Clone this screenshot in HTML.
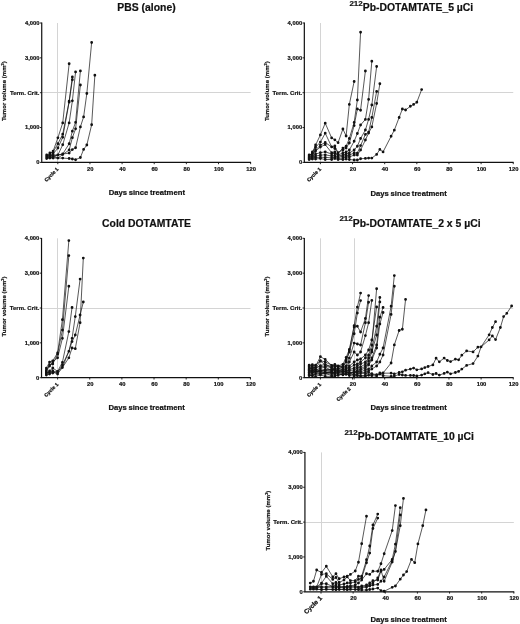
<!DOCTYPE html>
<html><head><meta charset="utf-8"><title>Tumor volume</title>
<style>
html,body{margin:0;padding:0;background:#fff;}
svg{display:block}
text{font-family:"Liberation Sans",sans-serif;fill:#111;font-weight:bold;stroke:#111;stroke-width:0.2px}
.tk{font-size:5.8px}
.tc{font-size:6.0px}
.cy{font-size:5.0px;stroke-width:0.25px}
.xl{font-size:7.7px;word-spacing:-0.5px}
.yl{font-size:6.05px}
.tt{font-size:10.4px}
.g{stroke:#d4d4d4;stroke-width:1}
.t{stroke:#111;stroke-width:0.9}
.ln{fill:none;stroke:#111;stroke-width:0.7}
</style></head><body>
<svg width="520" height="624" viewBox="0 0 520 624">
<rect width="520" height="624" fill="#fff"/>
<g id="pbs">
<line x1="57.5" y1="23.00" x2="57.5" y2="162.4" class="g"/>
<line x1="41.73" y1="92.5" x2="250.64" y2="92.5" class="g"/>
<polyline points="46.65,155.50 49.87,154.50 53.08,151.25 57.90,137.80 62.72,122.90 69.15,63.75" class="ln"/>
<polyline points="46.65,156.00 49.87,153.00 53.08,152.00 57.90,143.75 62.72,134.20 69.15,101.20 72.36,76.90" class="ln"/>
<polyline points="46.65,157.00 49.87,155.50 53.08,154.00 57.90,148.00 62.72,137.30 69.15,102.00 72.36,79.75" class="ln"/>
<polyline points="46.65,155.00 49.87,156.00 53.08,155.00 57.90,155.00 62.72,144.75 69.15,122.90 72.36,100.80 75.58,71.90" class="ln"/>
<polyline points="46.65,157.50 49.87,157.00 53.08,157.50 57.90,155.00 62.72,154.00 69.15,143.75 72.36,131.20 75.58,122.30 80.40,70.90" class="ln"/>
<polyline points="46.65,158.00 49.87,157.50 53.08,156.50 57.90,158.10 62.72,154.50 69.15,150.00 72.36,137.70 75.58,128.80 80.40,85.00" class="ln"/>
<polyline points="46.65,156.50 49.87,156.00 53.08,156.00 57.90,155.00 62.72,154.00 69.15,153.10 72.36,149.60 75.58,147.75 80.40,126.90 83.61,116.90 86.83,93.50 91.65,42.50" class="ln"/>
<polyline points="46.65,158.50 49.87,158.00 53.08,158.00 57.90,158.10 62.72,158.10 69.15,158.50 72.36,159.00 75.58,159.75 80.40,157.50 83.61,149.40 86.83,145.00 91.65,124.75 94.86,75.25" class="ln"/>
<path d="M45.25 155.50a1.4 1.4 0 1 0 2.8 0a1.4 1.4 0 1 0 -2.8 0zM48.47 154.50a1.4 1.4 0 1 0 2.8 0a1.4 1.4 0 1 0 -2.8 0zM51.68 151.25a1.4 1.4 0 1 0 2.8 0a1.4 1.4 0 1 0 -2.8 0zM56.50 137.80a1.4 1.4 0 1 0 2.8 0a1.4 1.4 0 1 0 -2.8 0zM61.32 122.90a1.4 1.4 0 1 0 2.8 0a1.4 1.4 0 1 0 -2.8 0zM67.75 63.75a1.4 1.4 0 1 0 2.8 0a1.4 1.4 0 1 0 -2.8 0zM45.25 156.00a1.4 1.4 0 1 0 2.8 0a1.4 1.4 0 1 0 -2.8 0zM48.47 153.00a1.4 1.4 0 1 0 2.8 0a1.4 1.4 0 1 0 -2.8 0zM51.68 152.00a1.4 1.4 0 1 0 2.8 0a1.4 1.4 0 1 0 -2.8 0zM56.50 143.75a1.4 1.4 0 1 0 2.8 0a1.4 1.4 0 1 0 -2.8 0zM61.32 134.20a1.4 1.4 0 1 0 2.8 0a1.4 1.4 0 1 0 -2.8 0zM67.75 101.20a1.4 1.4 0 1 0 2.8 0a1.4 1.4 0 1 0 -2.8 0zM70.96 76.90a1.4 1.4 0 1 0 2.8 0a1.4 1.4 0 1 0 -2.8 0zM45.25 157.00a1.4 1.4 0 1 0 2.8 0a1.4 1.4 0 1 0 -2.8 0zM48.47 155.50a1.4 1.4 0 1 0 2.8 0a1.4 1.4 0 1 0 -2.8 0zM51.68 154.00a1.4 1.4 0 1 0 2.8 0a1.4 1.4 0 1 0 -2.8 0zM56.50 148.00a1.4 1.4 0 1 0 2.8 0a1.4 1.4 0 1 0 -2.8 0zM61.32 137.30a1.4 1.4 0 1 0 2.8 0a1.4 1.4 0 1 0 -2.8 0zM67.75 102.00a1.4 1.4 0 1 0 2.8 0a1.4 1.4 0 1 0 -2.8 0zM70.96 79.75a1.4 1.4 0 1 0 2.8 0a1.4 1.4 0 1 0 -2.8 0zM45.25 155.00a1.4 1.4 0 1 0 2.8 0a1.4 1.4 0 1 0 -2.8 0zM48.47 156.00a1.4 1.4 0 1 0 2.8 0a1.4 1.4 0 1 0 -2.8 0zM51.68 155.00a1.4 1.4 0 1 0 2.8 0a1.4 1.4 0 1 0 -2.8 0zM56.50 155.00a1.4 1.4 0 1 0 2.8 0a1.4 1.4 0 1 0 -2.8 0zM61.32 144.75a1.4 1.4 0 1 0 2.8 0a1.4 1.4 0 1 0 -2.8 0zM67.75 122.90a1.4 1.4 0 1 0 2.8 0a1.4 1.4 0 1 0 -2.8 0zM70.96 100.80a1.4 1.4 0 1 0 2.8 0a1.4 1.4 0 1 0 -2.8 0zM74.18 71.90a1.4 1.4 0 1 0 2.8 0a1.4 1.4 0 1 0 -2.8 0zM45.25 157.50a1.4 1.4 0 1 0 2.8 0a1.4 1.4 0 1 0 -2.8 0zM48.47 157.00a1.4 1.4 0 1 0 2.8 0a1.4 1.4 0 1 0 -2.8 0zM51.68 157.50a1.4 1.4 0 1 0 2.8 0a1.4 1.4 0 1 0 -2.8 0zM56.50 155.00a1.4 1.4 0 1 0 2.8 0a1.4 1.4 0 1 0 -2.8 0zM61.32 154.00a1.4 1.4 0 1 0 2.8 0a1.4 1.4 0 1 0 -2.8 0zM67.75 143.75a1.4 1.4 0 1 0 2.8 0a1.4 1.4 0 1 0 -2.8 0zM70.96 131.20a1.4 1.4 0 1 0 2.8 0a1.4 1.4 0 1 0 -2.8 0zM74.18 122.30a1.4 1.4 0 1 0 2.8 0a1.4 1.4 0 1 0 -2.8 0zM79.00 70.90a1.4 1.4 0 1 0 2.8 0a1.4 1.4 0 1 0 -2.8 0zM45.25 158.00a1.4 1.4 0 1 0 2.8 0a1.4 1.4 0 1 0 -2.8 0zM48.47 157.50a1.4 1.4 0 1 0 2.8 0a1.4 1.4 0 1 0 -2.8 0zM51.68 156.50a1.4 1.4 0 1 0 2.8 0a1.4 1.4 0 1 0 -2.8 0zM56.50 158.10a1.4 1.4 0 1 0 2.8 0a1.4 1.4 0 1 0 -2.8 0zM61.32 154.50a1.4 1.4 0 1 0 2.8 0a1.4 1.4 0 1 0 -2.8 0zM67.75 150.00a1.4 1.4 0 1 0 2.8 0a1.4 1.4 0 1 0 -2.8 0zM70.96 137.70a1.4 1.4 0 1 0 2.8 0a1.4 1.4 0 1 0 -2.8 0zM74.18 128.80a1.4 1.4 0 1 0 2.8 0a1.4 1.4 0 1 0 -2.8 0zM79.00 85.00a1.4 1.4 0 1 0 2.8 0a1.4 1.4 0 1 0 -2.8 0zM45.25 156.50a1.4 1.4 0 1 0 2.8 0a1.4 1.4 0 1 0 -2.8 0zM48.47 156.00a1.4 1.4 0 1 0 2.8 0a1.4 1.4 0 1 0 -2.8 0zM51.68 156.00a1.4 1.4 0 1 0 2.8 0a1.4 1.4 0 1 0 -2.8 0zM56.50 155.00a1.4 1.4 0 1 0 2.8 0a1.4 1.4 0 1 0 -2.8 0zM61.32 154.00a1.4 1.4 0 1 0 2.8 0a1.4 1.4 0 1 0 -2.8 0zM67.75 153.10a1.4 1.4 0 1 0 2.8 0a1.4 1.4 0 1 0 -2.8 0zM70.96 149.60a1.4 1.4 0 1 0 2.8 0a1.4 1.4 0 1 0 -2.8 0zM74.18 147.75a1.4 1.4 0 1 0 2.8 0a1.4 1.4 0 1 0 -2.8 0zM79.00 126.90a1.4 1.4 0 1 0 2.8 0a1.4 1.4 0 1 0 -2.8 0zM82.21 116.90a1.4 1.4 0 1 0 2.8 0a1.4 1.4 0 1 0 -2.8 0zM85.43 93.50a1.4 1.4 0 1 0 2.8 0a1.4 1.4 0 1 0 -2.8 0zM90.25 42.50a1.4 1.4 0 1 0 2.8 0a1.4 1.4 0 1 0 -2.8 0zM45.25 158.50a1.4 1.4 0 1 0 2.8 0a1.4 1.4 0 1 0 -2.8 0zM48.47 158.00a1.4 1.4 0 1 0 2.8 0a1.4 1.4 0 1 0 -2.8 0zM51.68 158.00a1.4 1.4 0 1 0 2.8 0a1.4 1.4 0 1 0 -2.8 0zM56.50 158.10a1.4 1.4 0 1 0 2.8 0a1.4 1.4 0 1 0 -2.8 0zM61.32 158.10a1.4 1.4 0 1 0 2.8 0a1.4 1.4 0 1 0 -2.8 0zM67.75 158.50a1.4 1.4 0 1 0 2.8 0a1.4 1.4 0 1 0 -2.8 0zM70.96 159.00a1.4 1.4 0 1 0 2.8 0a1.4 1.4 0 1 0 -2.8 0zM74.18 159.75a1.4 1.4 0 1 0 2.8 0a1.4 1.4 0 1 0 -2.8 0zM79.00 157.50a1.4 1.4 0 1 0 2.8 0a1.4 1.4 0 1 0 -2.8 0zM82.21 149.40a1.4 1.4 0 1 0 2.8 0a1.4 1.4 0 1 0 -2.8 0zM85.43 145.00a1.4 1.4 0 1 0 2.8 0a1.4 1.4 0 1 0 -2.8 0zM90.25 124.75a1.4 1.4 0 1 0 2.8 0a1.4 1.4 0 1 0 -2.8 0zM93.46 75.25a1.4 1.4 0 1 0 2.8 0a1.4 1.4 0 1 0 -2.8 0z" fill="#111"/>
<path d="M41.73 22.60V162.4H251.04" fill="none" stroke="#111" stroke-width="1.2"/>
<line x1="39.93" x2="41.73" y1="162.40" y2="162.40" class="t"/>
<text x="39.53" y="164.20" text-anchor="end" class="tk">0</text>
<line x1="39.93" x2="41.73" y1="127.55" y2="127.55" class="t"/>
<text x="39.53" y="129.35" text-anchor="end" class="tk">1,000</text>
<line x1="39.93" x2="41.73" y1="92.70" y2="92.70" class="t"/>
<text x="39.53" y="94.50" text-anchor="end" class="tc">Term. Crit.</text>
<line x1="39.93" x2="41.73" y1="57.85" y2="57.85" class="t"/>
<text x="39.53" y="59.65" text-anchor="end" class="tk">3,000</text>
<line x1="39.93" x2="41.73" y1="23.00" y2="23.00" class="t"/>
<text x="39.53" y="24.80" text-anchor="end" class="tk">4,000</text>
<line x1="89.94" x2="89.94" y1="162.4" y2="164.20000000000002" class="t"/>
<text x="90.34" y="170.60" text-anchor="middle" class="tk">20</text>
<line x1="122.08" x2="122.08" y1="162.4" y2="164.20000000000002" class="t"/>
<text x="122.48" y="170.60" text-anchor="middle" class="tk">40</text>
<line x1="154.22" x2="154.22" y1="162.4" y2="164.20000000000002" class="t"/>
<text x="154.62" y="170.60" text-anchor="middle" class="tk">60</text>
<line x1="186.36" x2="186.36" y1="162.4" y2="164.20000000000002" class="t"/>
<text x="186.76" y="170.60" text-anchor="middle" class="tk">80</text>
<line x1="218.50" x2="218.50" y1="162.4" y2="164.20000000000002" class="t"/>
<text x="218.90" y="170.60" text-anchor="middle" class="tk">100</text>
<line x1="250.64" x2="250.64" y1="162.4" y2="164.20000000000002" class="t"/>
<text x="251.04" y="170.60" text-anchor="middle" class="tk">120</text>
<line x1="57.80" x2="57.80" y1="162.4" y2="164.20000000000002" class="t"/>
<text transform="translate(58.80,169.60) rotate(-45)" text-anchor="end" class="cy">Cycle 1</text>
<text x="146.80" y="195.10" text-anchor="middle" class="xl">Days since treatment</text>
<text transform="translate(6.23,91.20) rotate(-90)" text-anchor="middle" class="yl">Tumor volume (mm<tspan dy="-2" font-size="3.8">3</tspan><tspan dy="2">)</tspan></text>
<text x="146.50" y="11.00" text-anchor="middle" class="tt">PBS (alone)</text>
</g>
<g id="c5">
<line x1="320.5" y1="23.00" x2="320.5" y2="162.4" class="g"/>
<line x1="304.33" y1="92.5" x2="513.24" y2="92.5" class="g"/>
<polyline points="309.15,156.00 312.36,153.00 315.58,145.00 320.40,134.90 325.22,123.20 331.65,137.90 334.86,139.80 338.08,142.70 342.90,129.00 346.11,136.00 349.33,104.40 354.15,81.50" class="ln"/>
<polyline points="309.15,157.00 312.36,152.00 315.58,147.20 320.40,142.10 325.22,133.20 331.65,146.80 334.86,146.00 338.08,152.70 342.90,150.00 346.11,148.00 349.33,143.00 354.15,125.60 357.36,109.00 360.57,110.25 365.40,71.00" class="ln"/>
<polyline points="309.15,155.00 312.36,154.00 315.58,150.00 320.40,145.10 325.22,142.50 331.65,146.90 334.86,148.50 338.08,153.00 342.90,148.10 346.11,146.25 349.33,138.50 354.15,122.50 357.36,100.00 360.57,32.25" class="ln"/>
<polyline points="309.15,157.50 312.36,155.00 315.58,151.00 320.40,147.00 325.22,144.60 331.65,152.70 334.86,152.00 338.08,155.00 342.90,153.00 346.11,152.00 349.33,150.00 354.15,141.25 357.36,133.50 360.57,125.00 365.40,119.40 368.61,99.40 371.82,61.25" class="ln"/>
<polyline points="309.15,158.00 312.36,156.00 315.58,154.00 320.40,152.70 325.22,151.80 331.65,154.00 334.86,153.00 338.08,156.00 342.90,155.00 346.11,154.00 349.33,153.00 354.15,150.00 357.36,146.25 360.57,138.50 365.40,130.00 368.61,119.40 371.82,105.00 376.64,66.50" class="ln"/>
<polyline points="309.15,158.50 312.36,157.00 315.58,156.00 320.40,155.20 325.22,154.80 331.65,156.00 334.86,155.50 338.08,157.50 342.90,156.00 346.11,156.00 349.33,155.00 354.15,153.00 357.36,153.10 360.57,145.60 365.40,134.40 368.61,132.25 371.82,117.50 376.64,91.50" class="ln"/>
<polyline points="309.15,159.00 312.36,158.00 315.58,157.50 320.40,157.30 325.22,157.30 331.65,158.00 334.86,157.00 338.08,158.50 342.90,158.00 346.11,157.00 349.33,157.00 354.15,155.00 357.36,155.00 360.57,150.00 365.40,140.00 368.61,133.00 371.82,126.90 376.64,103.50 379.86,83.75" class="ln"/>
<polyline points="309.15,159.50 312.36,159.00 315.58,159.00 320.40,158.50 325.22,159.50 331.65,159.50 334.86,158.50 338.08,159.50 342.90,159.50 346.11,159.00 349.33,159.50 354.15,160.00 357.36,160.00 360.57,158.75 365.40,158.40 368.61,158.10 371.82,158.10 376.64,154.40 379.86,149.40 383.07,151.90 391.11,136.25 394.32,130.20 399.14,117.50 402.36,109.00 405.57,110.00 410.39,106.25 413.61,104.40 416.82,102.25 421.64,89.60" class="ln"/>
<path d="M307.75 156.00a1.4 1.4 0 1 0 2.8 0a1.4 1.4 0 1 0 -2.8 0zM310.96 153.00a1.4 1.4 0 1 0 2.8 0a1.4 1.4 0 1 0 -2.8 0zM314.18 145.00a1.4 1.4 0 1 0 2.8 0a1.4 1.4 0 1 0 -2.8 0zM319.00 134.90a1.4 1.4 0 1 0 2.8 0a1.4 1.4 0 1 0 -2.8 0zM323.82 123.20a1.4 1.4 0 1 0 2.8 0a1.4 1.4 0 1 0 -2.8 0zM330.25 137.90a1.4 1.4 0 1 0 2.8 0a1.4 1.4 0 1 0 -2.8 0zM333.46 139.80a1.4 1.4 0 1 0 2.8 0a1.4 1.4 0 1 0 -2.8 0zM336.68 142.70a1.4 1.4 0 1 0 2.8 0a1.4 1.4 0 1 0 -2.8 0zM341.50 129.00a1.4 1.4 0 1 0 2.8 0a1.4 1.4 0 1 0 -2.8 0zM344.71 136.00a1.4 1.4 0 1 0 2.8 0a1.4 1.4 0 1 0 -2.8 0zM347.93 104.40a1.4 1.4 0 1 0 2.8 0a1.4 1.4 0 1 0 -2.8 0zM352.75 81.50a1.4 1.4 0 1 0 2.8 0a1.4 1.4 0 1 0 -2.8 0zM307.75 157.00a1.4 1.4 0 1 0 2.8 0a1.4 1.4 0 1 0 -2.8 0zM310.96 152.00a1.4 1.4 0 1 0 2.8 0a1.4 1.4 0 1 0 -2.8 0zM314.18 147.20a1.4 1.4 0 1 0 2.8 0a1.4 1.4 0 1 0 -2.8 0zM319.00 142.10a1.4 1.4 0 1 0 2.8 0a1.4 1.4 0 1 0 -2.8 0zM323.82 133.20a1.4 1.4 0 1 0 2.8 0a1.4 1.4 0 1 0 -2.8 0zM330.25 146.80a1.4 1.4 0 1 0 2.8 0a1.4 1.4 0 1 0 -2.8 0zM333.46 146.00a1.4 1.4 0 1 0 2.8 0a1.4 1.4 0 1 0 -2.8 0zM336.68 152.70a1.4 1.4 0 1 0 2.8 0a1.4 1.4 0 1 0 -2.8 0zM341.50 150.00a1.4 1.4 0 1 0 2.8 0a1.4 1.4 0 1 0 -2.8 0zM344.71 148.00a1.4 1.4 0 1 0 2.8 0a1.4 1.4 0 1 0 -2.8 0zM347.93 143.00a1.4 1.4 0 1 0 2.8 0a1.4 1.4 0 1 0 -2.8 0zM352.75 125.60a1.4 1.4 0 1 0 2.8 0a1.4 1.4 0 1 0 -2.8 0zM355.96 109.00a1.4 1.4 0 1 0 2.8 0a1.4 1.4 0 1 0 -2.8 0zM359.18 110.25a1.4 1.4 0 1 0 2.8 0a1.4 1.4 0 1 0 -2.8 0zM364.00 71.00a1.4 1.4 0 1 0 2.8 0a1.4 1.4 0 1 0 -2.8 0zM307.75 155.00a1.4 1.4 0 1 0 2.8 0a1.4 1.4 0 1 0 -2.8 0zM310.96 154.00a1.4 1.4 0 1 0 2.8 0a1.4 1.4 0 1 0 -2.8 0zM314.18 150.00a1.4 1.4 0 1 0 2.8 0a1.4 1.4 0 1 0 -2.8 0zM319.00 145.10a1.4 1.4 0 1 0 2.8 0a1.4 1.4 0 1 0 -2.8 0zM323.82 142.50a1.4 1.4 0 1 0 2.8 0a1.4 1.4 0 1 0 -2.8 0zM330.25 146.90a1.4 1.4 0 1 0 2.8 0a1.4 1.4 0 1 0 -2.8 0zM333.46 148.50a1.4 1.4 0 1 0 2.8 0a1.4 1.4 0 1 0 -2.8 0zM336.68 153.00a1.4 1.4 0 1 0 2.8 0a1.4 1.4 0 1 0 -2.8 0zM341.50 148.10a1.4 1.4 0 1 0 2.8 0a1.4 1.4 0 1 0 -2.8 0zM344.71 146.25a1.4 1.4 0 1 0 2.8 0a1.4 1.4 0 1 0 -2.8 0zM347.93 138.50a1.4 1.4 0 1 0 2.8 0a1.4 1.4 0 1 0 -2.8 0zM352.75 122.50a1.4 1.4 0 1 0 2.8 0a1.4 1.4 0 1 0 -2.8 0zM355.96 100.00a1.4 1.4 0 1 0 2.8 0a1.4 1.4 0 1 0 -2.8 0zM359.18 32.25a1.4 1.4 0 1 0 2.8 0a1.4 1.4 0 1 0 -2.8 0zM307.75 157.50a1.4 1.4 0 1 0 2.8 0a1.4 1.4 0 1 0 -2.8 0zM310.96 155.00a1.4 1.4 0 1 0 2.8 0a1.4 1.4 0 1 0 -2.8 0zM314.18 151.00a1.4 1.4 0 1 0 2.8 0a1.4 1.4 0 1 0 -2.8 0zM319.00 147.00a1.4 1.4 0 1 0 2.8 0a1.4 1.4 0 1 0 -2.8 0zM323.82 144.60a1.4 1.4 0 1 0 2.8 0a1.4 1.4 0 1 0 -2.8 0zM330.25 152.70a1.4 1.4 0 1 0 2.8 0a1.4 1.4 0 1 0 -2.8 0zM333.46 152.00a1.4 1.4 0 1 0 2.8 0a1.4 1.4 0 1 0 -2.8 0zM336.68 155.00a1.4 1.4 0 1 0 2.8 0a1.4 1.4 0 1 0 -2.8 0zM341.50 153.00a1.4 1.4 0 1 0 2.8 0a1.4 1.4 0 1 0 -2.8 0zM344.71 152.00a1.4 1.4 0 1 0 2.8 0a1.4 1.4 0 1 0 -2.8 0zM347.93 150.00a1.4 1.4 0 1 0 2.8 0a1.4 1.4 0 1 0 -2.8 0zM352.75 141.25a1.4 1.4 0 1 0 2.8 0a1.4 1.4 0 1 0 -2.8 0zM355.96 133.50a1.4 1.4 0 1 0 2.8 0a1.4 1.4 0 1 0 -2.8 0zM359.18 125.00a1.4 1.4 0 1 0 2.8 0a1.4 1.4 0 1 0 -2.8 0zM364.00 119.40a1.4 1.4 0 1 0 2.8 0a1.4 1.4 0 1 0 -2.8 0zM367.21 99.40a1.4 1.4 0 1 0 2.8 0a1.4 1.4 0 1 0 -2.8 0zM370.42 61.25a1.4 1.4 0 1 0 2.8 0a1.4 1.4 0 1 0 -2.8 0zM307.75 158.00a1.4 1.4 0 1 0 2.8 0a1.4 1.4 0 1 0 -2.8 0zM310.96 156.00a1.4 1.4 0 1 0 2.8 0a1.4 1.4 0 1 0 -2.8 0zM314.18 154.00a1.4 1.4 0 1 0 2.8 0a1.4 1.4 0 1 0 -2.8 0zM319.00 152.70a1.4 1.4 0 1 0 2.8 0a1.4 1.4 0 1 0 -2.8 0zM323.82 151.80a1.4 1.4 0 1 0 2.8 0a1.4 1.4 0 1 0 -2.8 0zM330.25 154.00a1.4 1.4 0 1 0 2.8 0a1.4 1.4 0 1 0 -2.8 0zM333.46 153.00a1.4 1.4 0 1 0 2.8 0a1.4 1.4 0 1 0 -2.8 0zM336.68 156.00a1.4 1.4 0 1 0 2.8 0a1.4 1.4 0 1 0 -2.8 0zM341.50 155.00a1.4 1.4 0 1 0 2.8 0a1.4 1.4 0 1 0 -2.8 0zM344.71 154.00a1.4 1.4 0 1 0 2.8 0a1.4 1.4 0 1 0 -2.8 0zM347.93 153.00a1.4 1.4 0 1 0 2.8 0a1.4 1.4 0 1 0 -2.8 0zM352.75 150.00a1.4 1.4 0 1 0 2.8 0a1.4 1.4 0 1 0 -2.8 0zM355.96 146.25a1.4 1.4 0 1 0 2.8 0a1.4 1.4 0 1 0 -2.8 0zM359.18 138.50a1.4 1.4 0 1 0 2.8 0a1.4 1.4 0 1 0 -2.8 0zM364.00 130.00a1.4 1.4 0 1 0 2.8 0a1.4 1.4 0 1 0 -2.8 0zM367.21 119.40a1.4 1.4 0 1 0 2.8 0a1.4 1.4 0 1 0 -2.8 0zM370.42 105.00a1.4 1.4 0 1 0 2.8 0a1.4 1.4 0 1 0 -2.8 0zM375.25 66.50a1.4 1.4 0 1 0 2.8 0a1.4 1.4 0 1 0 -2.8 0zM307.75 158.50a1.4 1.4 0 1 0 2.8 0a1.4 1.4 0 1 0 -2.8 0zM310.96 157.00a1.4 1.4 0 1 0 2.8 0a1.4 1.4 0 1 0 -2.8 0zM314.18 156.00a1.4 1.4 0 1 0 2.8 0a1.4 1.4 0 1 0 -2.8 0zM319.00 155.20a1.4 1.4 0 1 0 2.8 0a1.4 1.4 0 1 0 -2.8 0zM323.82 154.80a1.4 1.4 0 1 0 2.8 0a1.4 1.4 0 1 0 -2.8 0zM330.25 156.00a1.4 1.4 0 1 0 2.8 0a1.4 1.4 0 1 0 -2.8 0zM333.46 155.50a1.4 1.4 0 1 0 2.8 0a1.4 1.4 0 1 0 -2.8 0zM336.68 157.50a1.4 1.4 0 1 0 2.8 0a1.4 1.4 0 1 0 -2.8 0zM341.50 156.00a1.4 1.4 0 1 0 2.8 0a1.4 1.4 0 1 0 -2.8 0zM344.71 156.00a1.4 1.4 0 1 0 2.8 0a1.4 1.4 0 1 0 -2.8 0zM347.93 155.00a1.4 1.4 0 1 0 2.8 0a1.4 1.4 0 1 0 -2.8 0zM352.75 153.00a1.4 1.4 0 1 0 2.8 0a1.4 1.4 0 1 0 -2.8 0zM355.96 153.10a1.4 1.4 0 1 0 2.8 0a1.4 1.4 0 1 0 -2.8 0zM359.18 145.60a1.4 1.4 0 1 0 2.8 0a1.4 1.4 0 1 0 -2.8 0zM364.00 134.40a1.4 1.4 0 1 0 2.8 0a1.4 1.4 0 1 0 -2.8 0zM367.21 132.25a1.4 1.4 0 1 0 2.8 0a1.4 1.4 0 1 0 -2.8 0zM370.42 117.50a1.4 1.4 0 1 0 2.8 0a1.4 1.4 0 1 0 -2.8 0zM375.25 91.50a1.4 1.4 0 1 0 2.8 0a1.4 1.4 0 1 0 -2.8 0zM307.75 159.00a1.4 1.4 0 1 0 2.8 0a1.4 1.4 0 1 0 -2.8 0zM310.96 158.00a1.4 1.4 0 1 0 2.8 0a1.4 1.4 0 1 0 -2.8 0zM314.18 157.50a1.4 1.4 0 1 0 2.8 0a1.4 1.4 0 1 0 -2.8 0zM319.00 157.30a1.4 1.4 0 1 0 2.8 0a1.4 1.4 0 1 0 -2.8 0zM323.82 157.30a1.4 1.4 0 1 0 2.8 0a1.4 1.4 0 1 0 -2.8 0zM330.25 158.00a1.4 1.4 0 1 0 2.8 0a1.4 1.4 0 1 0 -2.8 0zM333.46 157.00a1.4 1.4 0 1 0 2.8 0a1.4 1.4 0 1 0 -2.8 0zM336.68 158.50a1.4 1.4 0 1 0 2.8 0a1.4 1.4 0 1 0 -2.8 0zM341.50 158.00a1.4 1.4 0 1 0 2.8 0a1.4 1.4 0 1 0 -2.8 0zM344.71 157.00a1.4 1.4 0 1 0 2.8 0a1.4 1.4 0 1 0 -2.8 0zM347.93 157.00a1.4 1.4 0 1 0 2.8 0a1.4 1.4 0 1 0 -2.8 0zM352.75 155.00a1.4 1.4 0 1 0 2.8 0a1.4 1.4 0 1 0 -2.8 0zM355.96 155.00a1.4 1.4 0 1 0 2.8 0a1.4 1.4 0 1 0 -2.8 0zM359.18 150.00a1.4 1.4 0 1 0 2.8 0a1.4 1.4 0 1 0 -2.8 0zM364.00 140.00a1.4 1.4 0 1 0 2.8 0a1.4 1.4 0 1 0 -2.8 0zM367.21 133.00a1.4 1.4 0 1 0 2.8 0a1.4 1.4 0 1 0 -2.8 0zM370.42 126.90a1.4 1.4 0 1 0 2.8 0a1.4 1.4 0 1 0 -2.8 0zM375.25 103.50a1.4 1.4 0 1 0 2.8 0a1.4 1.4 0 1 0 -2.8 0zM378.46 83.75a1.4 1.4 0 1 0 2.8 0a1.4 1.4 0 1 0 -2.8 0zM307.75 159.50a1.4 1.4 0 1 0 2.8 0a1.4 1.4 0 1 0 -2.8 0zM310.96 159.00a1.4 1.4 0 1 0 2.8 0a1.4 1.4 0 1 0 -2.8 0zM314.18 159.00a1.4 1.4 0 1 0 2.8 0a1.4 1.4 0 1 0 -2.8 0zM319.00 158.50a1.4 1.4 0 1 0 2.8 0a1.4 1.4 0 1 0 -2.8 0zM323.82 159.50a1.4 1.4 0 1 0 2.8 0a1.4 1.4 0 1 0 -2.8 0zM330.25 159.50a1.4 1.4 0 1 0 2.8 0a1.4 1.4 0 1 0 -2.8 0zM333.46 158.50a1.4 1.4 0 1 0 2.8 0a1.4 1.4 0 1 0 -2.8 0zM336.68 159.50a1.4 1.4 0 1 0 2.8 0a1.4 1.4 0 1 0 -2.8 0zM341.50 159.50a1.4 1.4 0 1 0 2.8 0a1.4 1.4 0 1 0 -2.8 0zM344.71 159.00a1.4 1.4 0 1 0 2.8 0a1.4 1.4 0 1 0 -2.8 0zM347.93 159.50a1.4 1.4 0 1 0 2.8 0a1.4 1.4 0 1 0 -2.8 0zM352.75 160.00a1.4 1.4 0 1 0 2.8 0a1.4 1.4 0 1 0 -2.8 0zM355.96 160.00a1.4 1.4 0 1 0 2.8 0a1.4 1.4 0 1 0 -2.8 0zM359.18 158.75a1.4 1.4 0 1 0 2.8 0a1.4 1.4 0 1 0 -2.8 0zM364.00 158.40a1.4 1.4 0 1 0 2.8 0a1.4 1.4 0 1 0 -2.8 0zM367.21 158.10a1.4 1.4 0 1 0 2.8 0a1.4 1.4 0 1 0 -2.8 0zM370.42 158.10a1.4 1.4 0 1 0 2.8 0a1.4 1.4 0 1 0 -2.8 0zM375.25 154.40a1.4 1.4 0 1 0 2.8 0a1.4 1.4 0 1 0 -2.8 0zM378.46 149.40a1.4 1.4 0 1 0 2.8 0a1.4 1.4 0 1 0 -2.8 0zM381.67 151.90a1.4 1.4 0 1 0 2.8 0a1.4 1.4 0 1 0 -2.8 0zM389.71 136.25a1.4 1.4 0 1 0 2.8 0a1.4 1.4 0 1 0 -2.8 0zM392.92 130.20a1.4 1.4 0 1 0 2.8 0a1.4 1.4 0 1 0 -2.8 0zM397.74 117.50a1.4 1.4 0 1 0 2.8 0a1.4 1.4 0 1 0 -2.8 0zM400.96 109.00a1.4 1.4 0 1 0 2.8 0a1.4 1.4 0 1 0 -2.8 0zM404.17 110.00a1.4 1.4 0 1 0 2.8 0a1.4 1.4 0 1 0 -2.8 0zM408.99 106.25a1.4 1.4 0 1 0 2.8 0a1.4 1.4 0 1 0 -2.8 0zM412.21 104.40a1.4 1.4 0 1 0 2.8 0a1.4 1.4 0 1 0 -2.8 0zM415.42 102.25a1.4 1.4 0 1 0 2.8 0a1.4 1.4 0 1 0 -2.8 0zM420.24 89.60a1.4 1.4 0 1 0 2.8 0a1.4 1.4 0 1 0 -2.8 0z" fill="#111"/>
<path d="M304.33 22.60V162.4H513.64" fill="none" stroke="#111" stroke-width="1.2"/>
<line x1="302.53" x2="304.33" y1="162.40" y2="162.40" class="t"/>
<text x="302.13" y="164.20" text-anchor="end" class="tk">0</text>
<line x1="302.53" x2="304.33" y1="127.55" y2="127.55" class="t"/>
<text x="302.13" y="129.35" text-anchor="end" class="tk">1,000</text>
<line x1="302.53" x2="304.33" y1="92.70" y2="92.70" class="t"/>
<text x="302.13" y="94.50" text-anchor="end" class="tc">Term. Crit.</text>
<line x1="302.53" x2="304.33" y1="57.85" y2="57.85" class="t"/>
<text x="302.13" y="59.65" text-anchor="end" class="tk">3,000</text>
<line x1="302.53" x2="304.33" y1="23.00" y2="23.00" class="t"/>
<text x="302.13" y="24.80" text-anchor="end" class="tk">4,000</text>
<line x1="352.54" x2="352.54" y1="162.4" y2="164.20000000000002" class="t"/>
<text x="352.94" y="170.60" text-anchor="middle" class="tk">20</text>
<line x1="384.68" x2="384.68" y1="162.4" y2="164.20000000000002" class="t"/>
<text x="385.08" y="170.60" text-anchor="middle" class="tk">40</text>
<line x1="416.82" x2="416.82" y1="162.4" y2="164.20000000000002" class="t"/>
<text x="417.22" y="170.60" text-anchor="middle" class="tk">60</text>
<line x1="448.96" x2="448.96" y1="162.4" y2="164.20000000000002" class="t"/>
<text x="449.36" y="170.60" text-anchor="middle" class="tk">80</text>
<line x1="481.10" x2="481.10" y1="162.4" y2="164.20000000000002" class="t"/>
<text x="481.50" y="170.60" text-anchor="middle" class="tk">100</text>
<line x1="513.24" x2="513.24" y1="162.4" y2="164.20000000000002" class="t"/>
<text x="513.64" y="170.60" text-anchor="middle" class="tk">120</text>
<line x1="320.40" x2="320.40" y1="162.4" y2="164.20000000000002" class="t"/>
<text transform="translate(321.40,169.60) rotate(-45)" text-anchor="end" class="cy">Cycle 1</text>
<text x="408.70" y="196.00" text-anchor="middle" class="xl">Days since treatment</text>
<text transform="translate(268.83,91.20) rotate(-90)" text-anchor="middle" class="yl">Tumor volume (mm<tspan dy="-2" font-size="3.8">3</tspan><tspan dy="2">)</tspan></text>
<text x="411.30" y="10.90" text-anchor="middle" class="tt"><tspan dy="-5.1" font-size="8">212</tspan><tspan dy="5.1">Pb-DOTAMTATE_5 µCi</tspan></text>
</g>
<g id="cold">
<line x1="57.5" y1="238.30" x2="57.5" y2="377.7" class="g"/>
<line x1="41.53" y1="308.5" x2="250.44" y2="308.5" class="g"/>
<polyline points="46.35,368.20 49.56,362.10 52.78,360.80 57.60,352.90 62.42,319.70 68.85,240.60" class="ln"/>
<polyline points="46.35,370.00 49.56,365.00 52.78,364.00 57.60,354.00 62.42,330.10 68.85,255.60" class="ln"/>
<polyline points="46.35,371.00 49.56,366.00 52.78,362.00 57.60,357.80 62.42,338.30 68.85,286.25" class="ln"/>
<polyline points="46.35,373.00 49.56,371.00 52.78,368.00 57.60,371.40 62.42,362.30 68.85,331.60 72.06,307.50" class="ln"/>
<polyline points="46.35,374.00 49.56,372.00 52.78,371.00 57.60,372.50 62.42,365.00 68.85,351.30 72.06,338.30 75.28,316.60 80.10,279.10" class="ln"/>
<polyline points="46.35,372.00 49.56,373.00 52.78,373.00 57.60,371.40 62.42,367.50 68.85,357.80 72.06,348.00 75.28,348.70 80.10,322.70 83.31,258.10" class="ln"/>
<polyline points="46.35,375.00 49.56,374.00 52.78,372.00 57.60,374.00 62.42,367.50 68.85,351.30 72.06,341.60 75.28,335.00 80.10,315.00 83.31,302.00" class="ln"/>
<path d="M44.95 368.20a1.4 1.4 0 1 0 2.8 0a1.4 1.4 0 1 0 -2.8 0zM48.16 362.10a1.4 1.4 0 1 0 2.8 0a1.4 1.4 0 1 0 -2.8 0zM51.38 360.80a1.4 1.4 0 1 0 2.8 0a1.4 1.4 0 1 0 -2.8 0zM56.20 352.90a1.4 1.4 0 1 0 2.8 0a1.4 1.4 0 1 0 -2.8 0zM61.02 319.70a1.4 1.4 0 1 0 2.8 0a1.4 1.4 0 1 0 -2.8 0zM67.45 240.60a1.4 1.4 0 1 0 2.8 0a1.4 1.4 0 1 0 -2.8 0zM44.95 370.00a1.4 1.4 0 1 0 2.8 0a1.4 1.4 0 1 0 -2.8 0zM48.16 365.00a1.4 1.4 0 1 0 2.8 0a1.4 1.4 0 1 0 -2.8 0zM51.38 364.00a1.4 1.4 0 1 0 2.8 0a1.4 1.4 0 1 0 -2.8 0zM56.20 354.00a1.4 1.4 0 1 0 2.8 0a1.4 1.4 0 1 0 -2.8 0zM61.02 330.10a1.4 1.4 0 1 0 2.8 0a1.4 1.4 0 1 0 -2.8 0zM67.45 255.60a1.4 1.4 0 1 0 2.8 0a1.4 1.4 0 1 0 -2.8 0zM44.95 371.00a1.4 1.4 0 1 0 2.8 0a1.4 1.4 0 1 0 -2.8 0zM48.16 366.00a1.4 1.4 0 1 0 2.8 0a1.4 1.4 0 1 0 -2.8 0zM51.38 362.00a1.4 1.4 0 1 0 2.8 0a1.4 1.4 0 1 0 -2.8 0zM56.20 357.80a1.4 1.4 0 1 0 2.8 0a1.4 1.4 0 1 0 -2.8 0zM61.02 338.30a1.4 1.4 0 1 0 2.8 0a1.4 1.4 0 1 0 -2.8 0zM67.45 286.25a1.4 1.4 0 1 0 2.8 0a1.4 1.4 0 1 0 -2.8 0zM44.95 373.00a1.4 1.4 0 1 0 2.8 0a1.4 1.4 0 1 0 -2.8 0zM48.16 371.00a1.4 1.4 0 1 0 2.8 0a1.4 1.4 0 1 0 -2.8 0zM51.38 368.00a1.4 1.4 0 1 0 2.8 0a1.4 1.4 0 1 0 -2.8 0zM56.20 371.40a1.4 1.4 0 1 0 2.8 0a1.4 1.4 0 1 0 -2.8 0zM61.02 362.30a1.4 1.4 0 1 0 2.8 0a1.4 1.4 0 1 0 -2.8 0zM67.45 331.60a1.4 1.4 0 1 0 2.8 0a1.4 1.4 0 1 0 -2.8 0zM70.66 307.50a1.4 1.4 0 1 0 2.8 0a1.4 1.4 0 1 0 -2.8 0zM44.95 374.00a1.4 1.4 0 1 0 2.8 0a1.4 1.4 0 1 0 -2.8 0zM48.16 372.00a1.4 1.4 0 1 0 2.8 0a1.4 1.4 0 1 0 -2.8 0zM51.38 371.00a1.4 1.4 0 1 0 2.8 0a1.4 1.4 0 1 0 -2.8 0zM56.20 372.50a1.4 1.4 0 1 0 2.8 0a1.4 1.4 0 1 0 -2.8 0zM61.02 365.00a1.4 1.4 0 1 0 2.8 0a1.4 1.4 0 1 0 -2.8 0zM67.45 351.30a1.4 1.4 0 1 0 2.8 0a1.4 1.4 0 1 0 -2.8 0zM70.66 338.30a1.4 1.4 0 1 0 2.8 0a1.4 1.4 0 1 0 -2.8 0zM73.88 316.60a1.4 1.4 0 1 0 2.8 0a1.4 1.4 0 1 0 -2.8 0zM78.70 279.10a1.4 1.4 0 1 0 2.8 0a1.4 1.4 0 1 0 -2.8 0zM44.95 372.00a1.4 1.4 0 1 0 2.8 0a1.4 1.4 0 1 0 -2.8 0zM48.16 373.00a1.4 1.4 0 1 0 2.8 0a1.4 1.4 0 1 0 -2.8 0zM51.38 373.00a1.4 1.4 0 1 0 2.8 0a1.4 1.4 0 1 0 -2.8 0zM56.20 371.40a1.4 1.4 0 1 0 2.8 0a1.4 1.4 0 1 0 -2.8 0zM61.02 367.50a1.4 1.4 0 1 0 2.8 0a1.4 1.4 0 1 0 -2.8 0zM67.45 357.80a1.4 1.4 0 1 0 2.8 0a1.4 1.4 0 1 0 -2.8 0zM70.66 348.00a1.4 1.4 0 1 0 2.8 0a1.4 1.4 0 1 0 -2.8 0zM73.88 348.70a1.4 1.4 0 1 0 2.8 0a1.4 1.4 0 1 0 -2.8 0zM78.70 322.70a1.4 1.4 0 1 0 2.8 0a1.4 1.4 0 1 0 -2.8 0zM81.91 258.10a1.4 1.4 0 1 0 2.8 0a1.4 1.4 0 1 0 -2.8 0zM44.95 375.00a1.4 1.4 0 1 0 2.8 0a1.4 1.4 0 1 0 -2.8 0zM48.16 374.00a1.4 1.4 0 1 0 2.8 0a1.4 1.4 0 1 0 -2.8 0zM51.38 372.00a1.4 1.4 0 1 0 2.8 0a1.4 1.4 0 1 0 -2.8 0zM56.20 374.00a1.4 1.4 0 1 0 2.8 0a1.4 1.4 0 1 0 -2.8 0zM61.02 367.50a1.4 1.4 0 1 0 2.8 0a1.4 1.4 0 1 0 -2.8 0zM67.45 351.30a1.4 1.4 0 1 0 2.8 0a1.4 1.4 0 1 0 -2.8 0zM70.66 341.60a1.4 1.4 0 1 0 2.8 0a1.4 1.4 0 1 0 -2.8 0zM73.88 335.00a1.4 1.4 0 1 0 2.8 0a1.4 1.4 0 1 0 -2.8 0zM78.70 315.00a1.4 1.4 0 1 0 2.8 0a1.4 1.4 0 1 0 -2.8 0zM81.91 302.00a1.4 1.4 0 1 0 2.8 0a1.4 1.4 0 1 0 -2.8 0z" fill="#111"/>
<path d="M41.53 237.90V377.7H250.84" fill="none" stroke="#111" stroke-width="1.2"/>
<line x1="39.73" x2="41.53" y1="377.70" y2="377.70" class="t"/>
<text x="39.33" y="379.50" text-anchor="end" class="tk">0</text>
<line x1="39.73" x2="41.53" y1="342.85" y2="342.85" class="t"/>
<text x="39.33" y="344.65" text-anchor="end" class="tk">1,000</text>
<line x1="39.73" x2="41.53" y1="308.00" y2="308.00" class="t"/>
<text x="39.33" y="309.80" text-anchor="end" class="tc">Term. Crit.</text>
<line x1="39.73" x2="41.53" y1="273.15" y2="273.15" class="t"/>
<text x="39.33" y="274.95" text-anchor="end" class="tk">3,000</text>
<line x1="39.73" x2="41.53" y1="238.30" y2="238.30" class="t"/>
<text x="39.33" y="240.10" text-anchor="end" class="tk">4,000</text>
<line x1="89.74" x2="89.74" y1="377.7" y2="379.5" class="t"/>
<text x="90.14" y="385.90" text-anchor="middle" class="tk">20</text>
<line x1="121.88" x2="121.88" y1="377.7" y2="379.5" class="t"/>
<text x="122.28" y="385.90" text-anchor="middle" class="tk">40</text>
<line x1="154.02" x2="154.02" y1="377.7" y2="379.5" class="t"/>
<text x="154.42" y="385.90" text-anchor="middle" class="tk">60</text>
<line x1="186.16" x2="186.16" y1="377.7" y2="379.5" class="t"/>
<text x="186.56" y="385.90" text-anchor="middle" class="tk">80</text>
<line x1="218.30" x2="218.30" y1="377.7" y2="379.5" class="t"/>
<text x="218.70" y="385.90" text-anchor="middle" class="tk">100</text>
<line x1="250.44" x2="250.44" y1="377.7" y2="379.5" class="t"/>
<text x="250.84" y="385.90" text-anchor="middle" class="tk">120</text>
<line x1="57.60" x2="57.60" y1="377.7" y2="379.5" class="t"/>
<text transform="translate(58.60,384.90) rotate(-45)" text-anchor="end" class="cy">Cycle 1</text>
<text x="146.60" y="410.40" text-anchor="middle" class="xl">Days since treatment</text>
<text transform="translate(6.03,306.50) rotate(-90)" text-anchor="middle" class="yl">Tumor volume (mm<tspan dy="-2" font-size="3.8">3</tspan><tspan dy="2">)</tspan></text>
<text x="146.50" y="226.50" text-anchor="middle" class="tt">Cold DOTAMTATE</text>
</g>
<g id="c2x5">
<line x1="320.5" y1="238.30" x2="320.5" y2="377.7" class="g"/>
<line x1="354.5" y1="238.30" x2="354.5" y2="377.7" class="g"/>
<line x1="304.33" y1="308.5" x2="513.24" y2="308.5" class="g"/>
<polyline points="309.15,365.27 312.36,364.75 315.58,366.25 320.40,356.72 325.22,359.41 331.65,365.40 334.86,364.47 338.08,365.82 342.90,364.41 346.11,357.50 349.33,349.40 354.15,325.60 357.36,307.10 360.57,293.10" class="ln"/>
<polyline points="309.15,366.23 312.36,365.14 315.58,365.20 320.40,360.70 325.22,361.91 331.65,365.30 334.86,365.60 338.08,366.81 342.90,367.77 346.11,360.00 349.33,352.00 354.15,333.75 357.36,313.10 360.57,300.60" class="ln"/>
<polyline points="309.15,367.28 312.36,366.74 315.58,368.48 320.40,361.19 325.22,364.63 331.65,366.42 334.86,365.99 338.08,365.91 342.90,366.48 346.11,362.00 349.33,351.00 354.15,327.00 357.36,326.25 360.57,332.00 365.40,318.50 368.61,295.60" class="ln"/>
<polyline points="309.15,368.63 312.36,366.72 315.58,367.92 320.40,365.60 325.22,364.30 331.65,367.82 334.86,366.37 338.08,366.36 342.90,366.80 346.11,366.00 349.33,358.10 354.15,343.10 357.36,344.00 360.57,345.00 365.40,322.75 368.61,302.25" class="ln"/>
<polyline points="309.15,368.85 312.36,368.09 315.58,367.75 320.40,366.56 325.22,366.17 331.65,367.71 334.86,369.19 338.08,368.90 342.90,367.54 346.11,368.00 349.33,362.00 354.15,352.00 357.36,355.00 360.57,352.00 365.40,335.60 368.61,322.75 371.82,300.40" class="ln"/>
<polyline points="309.15,369.16 312.36,369.01 315.58,370.06 320.40,368.12 325.22,367.30 331.65,370.37 334.86,367.79 338.08,368.69 342.90,369.70 346.11,367.89 349.33,368.00 354.15,365.00 357.36,364.00 360.57,362.00 365.40,358.00 368.61,355.00 371.82,345.00 376.64,288.75" class="ln"/>
<polyline points="309.15,369.53 312.36,368.18 315.58,370.06 320.40,370.35 325.22,369.78 331.65,370.69 334.86,369.00 338.08,370.15 342.90,369.84 346.11,369.80 349.33,366.00 354.15,362.00 357.36,360.00 360.57,359.00 365.40,355.00 368.61,350.00 371.82,340.00 376.64,306.90" class="ln"/>
<polyline points="309.15,370.06 312.36,371.21 315.58,371.52 320.40,370.11 325.22,370.68 331.65,368.87 334.86,370.79 338.08,370.63 342.90,371.67 346.11,371.15 349.33,369.54 354.15,368.00 357.36,366.00 360.57,364.00 365.40,362.00 368.61,358.00 371.82,350.00 376.64,326.25 379.86,297.50" class="ln"/>
<polyline points="309.15,370.47 312.36,371.32 315.58,369.38 320.40,370.70 325.22,369.82 331.65,369.66 334.86,369.49 338.08,371.62 342.90,369.70 346.11,370.06 349.33,370.49 354.15,370.00 357.36,368.00 360.57,367.00 365.40,364.00 368.61,361.00 371.82,352.00 376.64,335.00 379.86,301.90" class="ln"/>
<polyline points="309.15,372.55 312.36,370.18 315.58,371.29 320.40,371.59 325.22,372.59 331.65,372.40 334.86,372.53 338.08,370.78 342.90,371.19 346.11,371.02 349.33,372.59 354.15,372.81 357.36,370.39 360.57,369.00 365.40,366.00 368.61,364.00 371.82,358.00 376.64,345.00 379.86,317.25 383.07,307.50" class="ln"/>
<polyline points="309.15,371.10 312.36,371.26 315.58,371.27 320.40,372.02 325.22,372.33 331.65,371.35 334.86,370.58 338.08,371.82 342.90,371.67 346.11,372.27 349.33,373.43 354.15,372.64 357.36,372.11 360.57,370.00 365.40,368.00 368.61,365.00 371.82,360.00 376.64,348.00 379.86,324.00 383.07,312.50" class="ln"/>
<polyline points="309.15,373.05 312.36,373.22 315.58,371.36 320.40,373.89 325.22,373.53 331.65,373.82 334.86,373.59 338.08,372.37 342.90,372.39 346.11,371.50 349.33,373.10 354.15,371.38 357.36,371.40 360.57,371.82 365.40,370.00 368.61,369.00 371.82,366.00 376.64,362.00 379.86,354.25 383.07,348.00 391.11,306.25 394.32,275.60" class="ln"/>
<polyline points="309.15,372.31 312.36,372.84 315.58,371.98 320.40,371.82 325.22,372.27 331.65,372.12 334.86,372.91 338.08,371.90 342.90,374.44 346.11,373.66 349.33,372.27 354.15,372.58 357.36,372.86 360.57,372.91 365.40,372.19 368.61,371.00 371.82,369.00 376.64,366.00 379.86,362.00 383.07,355.00 391.11,314.40 394.32,286.25" class="ln"/>
<polyline points="309.15,374.99 312.36,375.43 315.58,373.84 320.40,373.90 325.22,372.70 331.65,372.75 334.86,373.47 338.08,373.24 342.90,374.93 346.11,372.93 349.33,372.52 354.15,375.30 357.36,374.03 360.57,372.89 365.40,374.08 368.61,372.53 371.82,374.03 376.64,375.38 379.86,373.00 383.07,373.00 391.11,363.00 394.32,344.90 399.14,330.50 402.36,329.25 405.57,299.40" class="ln"/>
<polyline points="309.15,375.66 312.36,375.16 315.58,373.86 320.40,374.17 325.22,373.57 331.65,375.39 334.86,374.67 338.08,375.41 342.90,374.06 346.11,373.74 349.33,375.51 354.15,376.03 357.36,375.63 360.57,375.49 365.40,375.53 368.61,375.29 371.82,373.75 376.64,374.63 379.86,374.14 383.07,373.16 391.11,373.16 394.32,373.91 399.14,372.50 402.36,371.80 405.57,370.20 410.39,369.10 413.61,368.10 416.82,369.80 421.64,368.90 424.85,367.60 428.07,366.50 432.89,364.90 436.10,358.20 439.32,361.80 444.14,358.10 447.35,360.50 450.57,361.60 455.39,359.20 458.60,359.80 461.82,355.20 466.64,350.90 473.06,351.90 477.89,347.20 481.10,346.80 489.13,334.80 492.35,327.50 495.56,321.70" class="ln"/>
<polyline points="309.15,374.48 312.36,375.78 315.58,376.30 320.40,375.04 325.22,376.30 331.65,376.30 334.86,376.30 338.08,374.79 342.90,374.36 346.11,374.38 349.33,374.29 354.15,374.31 357.36,375.57 360.57,376.30 365.40,376.22 368.61,375.14 371.82,375.66 376.64,376.10 379.86,373.95 383.07,375.68 391.11,376.30 394.32,376.05 399.14,374.50 402.36,375.00 405.57,375.40 410.39,375.40 413.61,375.50 416.82,376.00 421.64,375.10 424.85,373.80 428.07,372.70 432.89,374.50 436.10,373.50 439.32,375.10 444.14,373.40 447.35,372.20 450.57,373.80 455.39,372.50 458.60,371.40 461.82,369.10 466.64,365.40 473.06,363.60 477.89,356.10 481.10,346.80 489.13,339.90 492.35,335.90 495.56,339.60 500.38,327.50 503.60,316.60 506.81,313.30 511.63,306.00" class="ln"/>
<path d="M307.75 365.27a1.4 1.4 0 1 0 2.8 0a1.4 1.4 0 1 0 -2.8 0zM310.96 364.75a1.4 1.4 0 1 0 2.8 0a1.4 1.4 0 1 0 -2.8 0zM314.18 366.25a1.4 1.4 0 1 0 2.8 0a1.4 1.4 0 1 0 -2.8 0zM319.00 356.72a1.4 1.4 0 1 0 2.8 0a1.4 1.4 0 1 0 -2.8 0zM323.82 359.41a1.4 1.4 0 1 0 2.8 0a1.4 1.4 0 1 0 -2.8 0zM330.25 365.40a1.4 1.4 0 1 0 2.8 0a1.4 1.4 0 1 0 -2.8 0zM333.46 364.47a1.4 1.4 0 1 0 2.8 0a1.4 1.4 0 1 0 -2.8 0zM336.68 365.82a1.4 1.4 0 1 0 2.8 0a1.4 1.4 0 1 0 -2.8 0zM341.50 364.41a1.4 1.4 0 1 0 2.8 0a1.4 1.4 0 1 0 -2.8 0zM344.71 357.50a1.4 1.4 0 1 0 2.8 0a1.4 1.4 0 1 0 -2.8 0zM347.93 349.40a1.4 1.4 0 1 0 2.8 0a1.4 1.4 0 1 0 -2.8 0zM352.75 325.60a1.4 1.4 0 1 0 2.8 0a1.4 1.4 0 1 0 -2.8 0zM355.96 307.10a1.4 1.4 0 1 0 2.8 0a1.4 1.4 0 1 0 -2.8 0zM359.18 293.10a1.4 1.4 0 1 0 2.8 0a1.4 1.4 0 1 0 -2.8 0zM307.75 366.23a1.4 1.4 0 1 0 2.8 0a1.4 1.4 0 1 0 -2.8 0zM310.96 365.14a1.4 1.4 0 1 0 2.8 0a1.4 1.4 0 1 0 -2.8 0zM314.18 365.20a1.4 1.4 0 1 0 2.8 0a1.4 1.4 0 1 0 -2.8 0zM319.00 360.70a1.4 1.4 0 1 0 2.8 0a1.4 1.4 0 1 0 -2.8 0zM323.82 361.91a1.4 1.4 0 1 0 2.8 0a1.4 1.4 0 1 0 -2.8 0zM330.25 365.30a1.4 1.4 0 1 0 2.8 0a1.4 1.4 0 1 0 -2.8 0zM333.46 365.60a1.4 1.4 0 1 0 2.8 0a1.4 1.4 0 1 0 -2.8 0zM336.68 366.81a1.4 1.4 0 1 0 2.8 0a1.4 1.4 0 1 0 -2.8 0zM341.50 367.77a1.4 1.4 0 1 0 2.8 0a1.4 1.4 0 1 0 -2.8 0zM344.71 360.00a1.4 1.4 0 1 0 2.8 0a1.4 1.4 0 1 0 -2.8 0zM347.93 352.00a1.4 1.4 0 1 0 2.8 0a1.4 1.4 0 1 0 -2.8 0zM352.75 333.75a1.4 1.4 0 1 0 2.8 0a1.4 1.4 0 1 0 -2.8 0zM355.96 313.10a1.4 1.4 0 1 0 2.8 0a1.4 1.4 0 1 0 -2.8 0zM359.18 300.60a1.4 1.4 0 1 0 2.8 0a1.4 1.4 0 1 0 -2.8 0zM307.75 367.28a1.4 1.4 0 1 0 2.8 0a1.4 1.4 0 1 0 -2.8 0zM310.96 366.74a1.4 1.4 0 1 0 2.8 0a1.4 1.4 0 1 0 -2.8 0zM314.18 368.48a1.4 1.4 0 1 0 2.8 0a1.4 1.4 0 1 0 -2.8 0zM319.00 361.19a1.4 1.4 0 1 0 2.8 0a1.4 1.4 0 1 0 -2.8 0zM323.82 364.63a1.4 1.4 0 1 0 2.8 0a1.4 1.4 0 1 0 -2.8 0zM330.25 366.42a1.4 1.4 0 1 0 2.8 0a1.4 1.4 0 1 0 -2.8 0zM333.46 365.99a1.4 1.4 0 1 0 2.8 0a1.4 1.4 0 1 0 -2.8 0zM336.68 365.91a1.4 1.4 0 1 0 2.8 0a1.4 1.4 0 1 0 -2.8 0zM341.50 366.48a1.4 1.4 0 1 0 2.8 0a1.4 1.4 0 1 0 -2.8 0zM344.71 362.00a1.4 1.4 0 1 0 2.8 0a1.4 1.4 0 1 0 -2.8 0zM347.93 351.00a1.4 1.4 0 1 0 2.8 0a1.4 1.4 0 1 0 -2.8 0zM352.75 327.00a1.4 1.4 0 1 0 2.8 0a1.4 1.4 0 1 0 -2.8 0zM355.96 326.25a1.4 1.4 0 1 0 2.8 0a1.4 1.4 0 1 0 -2.8 0zM359.18 332.00a1.4 1.4 0 1 0 2.8 0a1.4 1.4 0 1 0 -2.8 0zM364.00 318.50a1.4 1.4 0 1 0 2.8 0a1.4 1.4 0 1 0 -2.8 0zM367.21 295.60a1.4 1.4 0 1 0 2.8 0a1.4 1.4 0 1 0 -2.8 0zM307.75 368.63a1.4 1.4 0 1 0 2.8 0a1.4 1.4 0 1 0 -2.8 0zM310.96 366.72a1.4 1.4 0 1 0 2.8 0a1.4 1.4 0 1 0 -2.8 0zM314.18 367.92a1.4 1.4 0 1 0 2.8 0a1.4 1.4 0 1 0 -2.8 0zM319.00 365.60a1.4 1.4 0 1 0 2.8 0a1.4 1.4 0 1 0 -2.8 0zM323.82 364.30a1.4 1.4 0 1 0 2.8 0a1.4 1.4 0 1 0 -2.8 0zM330.25 367.82a1.4 1.4 0 1 0 2.8 0a1.4 1.4 0 1 0 -2.8 0zM333.46 366.37a1.4 1.4 0 1 0 2.8 0a1.4 1.4 0 1 0 -2.8 0zM336.68 366.36a1.4 1.4 0 1 0 2.8 0a1.4 1.4 0 1 0 -2.8 0zM341.50 366.80a1.4 1.4 0 1 0 2.8 0a1.4 1.4 0 1 0 -2.8 0zM344.71 366.00a1.4 1.4 0 1 0 2.8 0a1.4 1.4 0 1 0 -2.8 0zM347.93 358.10a1.4 1.4 0 1 0 2.8 0a1.4 1.4 0 1 0 -2.8 0zM352.75 343.10a1.4 1.4 0 1 0 2.8 0a1.4 1.4 0 1 0 -2.8 0zM355.96 344.00a1.4 1.4 0 1 0 2.8 0a1.4 1.4 0 1 0 -2.8 0zM359.18 345.00a1.4 1.4 0 1 0 2.8 0a1.4 1.4 0 1 0 -2.8 0zM364.00 322.75a1.4 1.4 0 1 0 2.8 0a1.4 1.4 0 1 0 -2.8 0zM367.21 302.25a1.4 1.4 0 1 0 2.8 0a1.4 1.4 0 1 0 -2.8 0zM307.75 368.85a1.4 1.4 0 1 0 2.8 0a1.4 1.4 0 1 0 -2.8 0zM310.96 368.09a1.4 1.4 0 1 0 2.8 0a1.4 1.4 0 1 0 -2.8 0zM314.18 367.75a1.4 1.4 0 1 0 2.8 0a1.4 1.4 0 1 0 -2.8 0zM319.00 366.56a1.4 1.4 0 1 0 2.8 0a1.4 1.4 0 1 0 -2.8 0zM323.82 366.17a1.4 1.4 0 1 0 2.8 0a1.4 1.4 0 1 0 -2.8 0zM330.25 367.71a1.4 1.4 0 1 0 2.8 0a1.4 1.4 0 1 0 -2.8 0zM333.46 369.19a1.4 1.4 0 1 0 2.8 0a1.4 1.4 0 1 0 -2.8 0zM336.68 368.90a1.4 1.4 0 1 0 2.8 0a1.4 1.4 0 1 0 -2.8 0zM341.50 367.54a1.4 1.4 0 1 0 2.8 0a1.4 1.4 0 1 0 -2.8 0zM344.71 368.00a1.4 1.4 0 1 0 2.8 0a1.4 1.4 0 1 0 -2.8 0zM347.93 362.00a1.4 1.4 0 1 0 2.8 0a1.4 1.4 0 1 0 -2.8 0zM352.75 352.00a1.4 1.4 0 1 0 2.8 0a1.4 1.4 0 1 0 -2.8 0zM355.96 355.00a1.4 1.4 0 1 0 2.8 0a1.4 1.4 0 1 0 -2.8 0zM359.18 352.00a1.4 1.4 0 1 0 2.8 0a1.4 1.4 0 1 0 -2.8 0zM364.00 335.60a1.4 1.4 0 1 0 2.8 0a1.4 1.4 0 1 0 -2.8 0zM367.21 322.75a1.4 1.4 0 1 0 2.8 0a1.4 1.4 0 1 0 -2.8 0zM370.42 300.40a1.4 1.4 0 1 0 2.8 0a1.4 1.4 0 1 0 -2.8 0zM307.75 369.16a1.4 1.4 0 1 0 2.8 0a1.4 1.4 0 1 0 -2.8 0zM310.96 369.01a1.4 1.4 0 1 0 2.8 0a1.4 1.4 0 1 0 -2.8 0zM314.18 370.06a1.4 1.4 0 1 0 2.8 0a1.4 1.4 0 1 0 -2.8 0zM319.00 368.12a1.4 1.4 0 1 0 2.8 0a1.4 1.4 0 1 0 -2.8 0zM323.82 367.30a1.4 1.4 0 1 0 2.8 0a1.4 1.4 0 1 0 -2.8 0zM330.25 370.37a1.4 1.4 0 1 0 2.8 0a1.4 1.4 0 1 0 -2.8 0zM333.46 367.79a1.4 1.4 0 1 0 2.8 0a1.4 1.4 0 1 0 -2.8 0zM336.68 368.69a1.4 1.4 0 1 0 2.8 0a1.4 1.4 0 1 0 -2.8 0zM341.50 369.70a1.4 1.4 0 1 0 2.8 0a1.4 1.4 0 1 0 -2.8 0zM344.71 367.89a1.4 1.4 0 1 0 2.8 0a1.4 1.4 0 1 0 -2.8 0zM347.93 368.00a1.4 1.4 0 1 0 2.8 0a1.4 1.4 0 1 0 -2.8 0zM352.75 365.00a1.4 1.4 0 1 0 2.8 0a1.4 1.4 0 1 0 -2.8 0zM355.96 364.00a1.4 1.4 0 1 0 2.8 0a1.4 1.4 0 1 0 -2.8 0zM359.18 362.00a1.4 1.4 0 1 0 2.8 0a1.4 1.4 0 1 0 -2.8 0zM364.00 358.00a1.4 1.4 0 1 0 2.8 0a1.4 1.4 0 1 0 -2.8 0zM367.21 355.00a1.4 1.4 0 1 0 2.8 0a1.4 1.4 0 1 0 -2.8 0zM370.42 345.00a1.4 1.4 0 1 0 2.8 0a1.4 1.4 0 1 0 -2.8 0zM375.25 288.75a1.4 1.4 0 1 0 2.8 0a1.4 1.4 0 1 0 -2.8 0zM307.75 369.53a1.4 1.4 0 1 0 2.8 0a1.4 1.4 0 1 0 -2.8 0zM310.96 368.18a1.4 1.4 0 1 0 2.8 0a1.4 1.4 0 1 0 -2.8 0zM314.18 370.06a1.4 1.4 0 1 0 2.8 0a1.4 1.4 0 1 0 -2.8 0zM319.00 370.35a1.4 1.4 0 1 0 2.8 0a1.4 1.4 0 1 0 -2.8 0zM323.82 369.78a1.4 1.4 0 1 0 2.8 0a1.4 1.4 0 1 0 -2.8 0zM330.25 370.69a1.4 1.4 0 1 0 2.8 0a1.4 1.4 0 1 0 -2.8 0zM333.46 369.00a1.4 1.4 0 1 0 2.8 0a1.4 1.4 0 1 0 -2.8 0zM336.68 370.15a1.4 1.4 0 1 0 2.8 0a1.4 1.4 0 1 0 -2.8 0zM341.50 369.84a1.4 1.4 0 1 0 2.8 0a1.4 1.4 0 1 0 -2.8 0zM344.71 369.80a1.4 1.4 0 1 0 2.8 0a1.4 1.4 0 1 0 -2.8 0zM347.93 366.00a1.4 1.4 0 1 0 2.8 0a1.4 1.4 0 1 0 -2.8 0zM352.75 362.00a1.4 1.4 0 1 0 2.8 0a1.4 1.4 0 1 0 -2.8 0zM355.96 360.00a1.4 1.4 0 1 0 2.8 0a1.4 1.4 0 1 0 -2.8 0zM359.18 359.00a1.4 1.4 0 1 0 2.8 0a1.4 1.4 0 1 0 -2.8 0zM364.00 355.00a1.4 1.4 0 1 0 2.8 0a1.4 1.4 0 1 0 -2.8 0zM367.21 350.00a1.4 1.4 0 1 0 2.8 0a1.4 1.4 0 1 0 -2.8 0zM370.42 340.00a1.4 1.4 0 1 0 2.8 0a1.4 1.4 0 1 0 -2.8 0zM375.25 306.90a1.4 1.4 0 1 0 2.8 0a1.4 1.4 0 1 0 -2.8 0zM307.75 370.06a1.4 1.4 0 1 0 2.8 0a1.4 1.4 0 1 0 -2.8 0zM310.96 371.21a1.4 1.4 0 1 0 2.8 0a1.4 1.4 0 1 0 -2.8 0zM314.18 371.52a1.4 1.4 0 1 0 2.8 0a1.4 1.4 0 1 0 -2.8 0zM319.00 370.11a1.4 1.4 0 1 0 2.8 0a1.4 1.4 0 1 0 -2.8 0zM323.82 370.68a1.4 1.4 0 1 0 2.8 0a1.4 1.4 0 1 0 -2.8 0zM330.25 368.87a1.4 1.4 0 1 0 2.8 0a1.4 1.4 0 1 0 -2.8 0zM333.46 370.79a1.4 1.4 0 1 0 2.8 0a1.4 1.4 0 1 0 -2.8 0zM336.68 370.63a1.4 1.4 0 1 0 2.8 0a1.4 1.4 0 1 0 -2.8 0zM341.50 371.67a1.4 1.4 0 1 0 2.8 0a1.4 1.4 0 1 0 -2.8 0zM344.71 371.15a1.4 1.4 0 1 0 2.8 0a1.4 1.4 0 1 0 -2.8 0zM347.93 369.54a1.4 1.4 0 1 0 2.8 0a1.4 1.4 0 1 0 -2.8 0zM352.75 368.00a1.4 1.4 0 1 0 2.8 0a1.4 1.4 0 1 0 -2.8 0zM355.96 366.00a1.4 1.4 0 1 0 2.8 0a1.4 1.4 0 1 0 -2.8 0zM359.18 364.00a1.4 1.4 0 1 0 2.8 0a1.4 1.4 0 1 0 -2.8 0zM364.00 362.00a1.4 1.4 0 1 0 2.8 0a1.4 1.4 0 1 0 -2.8 0zM367.21 358.00a1.4 1.4 0 1 0 2.8 0a1.4 1.4 0 1 0 -2.8 0zM370.42 350.00a1.4 1.4 0 1 0 2.8 0a1.4 1.4 0 1 0 -2.8 0zM375.25 326.25a1.4 1.4 0 1 0 2.8 0a1.4 1.4 0 1 0 -2.8 0zM378.46 297.50a1.4 1.4 0 1 0 2.8 0a1.4 1.4 0 1 0 -2.8 0zM307.75 370.47a1.4 1.4 0 1 0 2.8 0a1.4 1.4 0 1 0 -2.8 0zM310.96 371.32a1.4 1.4 0 1 0 2.8 0a1.4 1.4 0 1 0 -2.8 0zM314.18 369.38a1.4 1.4 0 1 0 2.8 0a1.4 1.4 0 1 0 -2.8 0zM319.00 370.70a1.4 1.4 0 1 0 2.8 0a1.4 1.4 0 1 0 -2.8 0zM323.82 369.82a1.4 1.4 0 1 0 2.8 0a1.4 1.4 0 1 0 -2.8 0zM330.25 369.66a1.4 1.4 0 1 0 2.8 0a1.4 1.4 0 1 0 -2.8 0zM333.46 369.49a1.4 1.4 0 1 0 2.8 0a1.4 1.4 0 1 0 -2.8 0zM336.68 371.62a1.4 1.4 0 1 0 2.8 0a1.4 1.4 0 1 0 -2.8 0zM341.50 369.70a1.4 1.4 0 1 0 2.8 0a1.4 1.4 0 1 0 -2.8 0zM344.71 370.06a1.4 1.4 0 1 0 2.8 0a1.4 1.4 0 1 0 -2.8 0zM347.93 370.49a1.4 1.4 0 1 0 2.8 0a1.4 1.4 0 1 0 -2.8 0zM352.75 370.00a1.4 1.4 0 1 0 2.8 0a1.4 1.4 0 1 0 -2.8 0zM355.96 368.00a1.4 1.4 0 1 0 2.8 0a1.4 1.4 0 1 0 -2.8 0zM359.18 367.00a1.4 1.4 0 1 0 2.8 0a1.4 1.4 0 1 0 -2.8 0zM364.00 364.00a1.4 1.4 0 1 0 2.8 0a1.4 1.4 0 1 0 -2.8 0zM367.21 361.00a1.4 1.4 0 1 0 2.8 0a1.4 1.4 0 1 0 -2.8 0zM370.42 352.00a1.4 1.4 0 1 0 2.8 0a1.4 1.4 0 1 0 -2.8 0zM375.25 335.00a1.4 1.4 0 1 0 2.8 0a1.4 1.4 0 1 0 -2.8 0zM378.46 301.90a1.4 1.4 0 1 0 2.8 0a1.4 1.4 0 1 0 -2.8 0zM307.75 372.55a1.4 1.4 0 1 0 2.8 0a1.4 1.4 0 1 0 -2.8 0zM310.96 370.18a1.4 1.4 0 1 0 2.8 0a1.4 1.4 0 1 0 -2.8 0zM314.18 371.29a1.4 1.4 0 1 0 2.8 0a1.4 1.4 0 1 0 -2.8 0zM319.00 371.59a1.4 1.4 0 1 0 2.8 0a1.4 1.4 0 1 0 -2.8 0zM323.82 372.59a1.4 1.4 0 1 0 2.8 0a1.4 1.4 0 1 0 -2.8 0zM330.25 372.40a1.4 1.4 0 1 0 2.8 0a1.4 1.4 0 1 0 -2.8 0zM333.46 372.53a1.4 1.4 0 1 0 2.8 0a1.4 1.4 0 1 0 -2.8 0zM336.68 370.78a1.4 1.4 0 1 0 2.8 0a1.4 1.4 0 1 0 -2.8 0zM341.50 371.19a1.4 1.4 0 1 0 2.8 0a1.4 1.4 0 1 0 -2.8 0zM344.71 371.02a1.4 1.4 0 1 0 2.8 0a1.4 1.4 0 1 0 -2.8 0zM347.93 372.59a1.4 1.4 0 1 0 2.8 0a1.4 1.4 0 1 0 -2.8 0zM352.75 372.81a1.4 1.4 0 1 0 2.8 0a1.4 1.4 0 1 0 -2.8 0zM355.96 370.39a1.4 1.4 0 1 0 2.8 0a1.4 1.4 0 1 0 -2.8 0zM359.18 369.00a1.4 1.4 0 1 0 2.8 0a1.4 1.4 0 1 0 -2.8 0zM364.00 366.00a1.4 1.4 0 1 0 2.8 0a1.4 1.4 0 1 0 -2.8 0zM367.21 364.00a1.4 1.4 0 1 0 2.8 0a1.4 1.4 0 1 0 -2.8 0zM370.42 358.00a1.4 1.4 0 1 0 2.8 0a1.4 1.4 0 1 0 -2.8 0zM375.25 345.00a1.4 1.4 0 1 0 2.8 0a1.4 1.4 0 1 0 -2.8 0zM378.46 317.25a1.4 1.4 0 1 0 2.8 0a1.4 1.4 0 1 0 -2.8 0zM381.67 307.50a1.4 1.4 0 1 0 2.8 0a1.4 1.4 0 1 0 -2.8 0zM307.75 371.10a1.4 1.4 0 1 0 2.8 0a1.4 1.4 0 1 0 -2.8 0zM310.96 371.26a1.4 1.4 0 1 0 2.8 0a1.4 1.4 0 1 0 -2.8 0zM314.18 371.27a1.4 1.4 0 1 0 2.8 0a1.4 1.4 0 1 0 -2.8 0zM319.00 372.02a1.4 1.4 0 1 0 2.8 0a1.4 1.4 0 1 0 -2.8 0zM323.82 372.33a1.4 1.4 0 1 0 2.8 0a1.4 1.4 0 1 0 -2.8 0zM330.25 371.35a1.4 1.4 0 1 0 2.8 0a1.4 1.4 0 1 0 -2.8 0zM333.46 370.58a1.4 1.4 0 1 0 2.8 0a1.4 1.4 0 1 0 -2.8 0zM336.68 371.82a1.4 1.4 0 1 0 2.8 0a1.4 1.4 0 1 0 -2.8 0zM341.50 371.67a1.4 1.4 0 1 0 2.8 0a1.4 1.4 0 1 0 -2.8 0zM344.71 372.27a1.4 1.4 0 1 0 2.8 0a1.4 1.4 0 1 0 -2.8 0zM347.93 373.43a1.4 1.4 0 1 0 2.8 0a1.4 1.4 0 1 0 -2.8 0zM352.75 372.64a1.4 1.4 0 1 0 2.8 0a1.4 1.4 0 1 0 -2.8 0zM355.96 372.11a1.4 1.4 0 1 0 2.8 0a1.4 1.4 0 1 0 -2.8 0zM359.18 370.00a1.4 1.4 0 1 0 2.8 0a1.4 1.4 0 1 0 -2.8 0zM364.00 368.00a1.4 1.4 0 1 0 2.8 0a1.4 1.4 0 1 0 -2.8 0zM367.21 365.00a1.4 1.4 0 1 0 2.8 0a1.4 1.4 0 1 0 -2.8 0zM370.42 360.00a1.4 1.4 0 1 0 2.8 0a1.4 1.4 0 1 0 -2.8 0zM375.25 348.00a1.4 1.4 0 1 0 2.8 0a1.4 1.4 0 1 0 -2.8 0zM378.46 324.00a1.4 1.4 0 1 0 2.8 0a1.4 1.4 0 1 0 -2.8 0zM381.67 312.50a1.4 1.4 0 1 0 2.8 0a1.4 1.4 0 1 0 -2.8 0zM307.75 373.05a1.4 1.4 0 1 0 2.8 0a1.4 1.4 0 1 0 -2.8 0zM310.96 373.22a1.4 1.4 0 1 0 2.8 0a1.4 1.4 0 1 0 -2.8 0zM314.18 371.36a1.4 1.4 0 1 0 2.8 0a1.4 1.4 0 1 0 -2.8 0zM319.00 373.89a1.4 1.4 0 1 0 2.8 0a1.4 1.4 0 1 0 -2.8 0zM323.82 373.53a1.4 1.4 0 1 0 2.8 0a1.4 1.4 0 1 0 -2.8 0zM330.25 373.82a1.4 1.4 0 1 0 2.8 0a1.4 1.4 0 1 0 -2.8 0zM333.46 373.59a1.4 1.4 0 1 0 2.8 0a1.4 1.4 0 1 0 -2.8 0zM336.68 372.37a1.4 1.4 0 1 0 2.8 0a1.4 1.4 0 1 0 -2.8 0zM341.50 372.39a1.4 1.4 0 1 0 2.8 0a1.4 1.4 0 1 0 -2.8 0zM344.71 371.50a1.4 1.4 0 1 0 2.8 0a1.4 1.4 0 1 0 -2.8 0zM347.93 373.10a1.4 1.4 0 1 0 2.8 0a1.4 1.4 0 1 0 -2.8 0zM352.75 371.38a1.4 1.4 0 1 0 2.8 0a1.4 1.4 0 1 0 -2.8 0zM355.96 371.40a1.4 1.4 0 1 0 2.8 0a1.4 1.4 0 1 0 -2.8 0zM359.18 371.82a1.4 1.4 0 1 0 2.8 0a1.4 1.4 0 1 0 -2.8 0zM364.00 370.00a1.4 1.4 0 1 0 2.8 0a1.4 1.4 0 1 0 -2.8 0zM367.21 369.00a1.4 1.4 0 1 0 2.8 0a1.4 1.4 0 1 0 -2.8 0zM370.42 366.00a1.4 1.4 0 1 0 2.8 0a1.4 1.4 0 1 0 -2.8 0zM375.25 362.00a1.4 1.4 0 1 0 2.8 0a1.4 1.4 0 1 0 -2.8 0zM378.46 354.25a1.4 1.4 0 1 0 2.8 0a1.4 1.4 0 1 0 -2.8 0zM381.67 348.00a1.4 1.4 0 1 0 2.8 0a1.4 1.4 0 1 0 -2.8 0zM389.71 306.25a1.4 1.4 0 1 0 2.8 0a1.4 1.4 0 1 0 -2.8 0zM392.92 275.60a1.4 1.4 0 1 0 2.8 0a1.4 1.4 0 1 0 -2.8 0zM307.75 372.31a1.4 1.4 0 1 0 2.8 0a1.4 1.4 0 1 0 -2.8 0zM310.96 372.84a1.4 1.4 0 1 0 2.8 0a1.4 1.4 0 1 0 -2.8 0zM314.18 371.98a1.4 1.4 0 1 0 2.8 0a1.4 1.4 0 1 0 -2.8 0zM319.00 371.82a1.4 1.4 0 1 0 2.8 0a1.4 1.4 0 1 0 -2.8 0zM323.82 372.27a1.4 1.4 0 1 0 2.8 0a1.4 1.4 0 1 0 -2.8 0zM330.25 372.12a1.4 1.4 0 1 0 2.8 0a1.4 1.4 0 1 0 -2.8 0zM333.46 372.91a1.4 1.4 0 1 0 2.8 0a1.4 1.4 0 1 0 -2.8 0zM336.68 371.90a1.4 1.4 0 1 0 2.8 0a1.4 1.4 0 1 0 -2.8 0zM341.50 374.44a1.4 1.4 0 1 0 2.8 0a1.4 1.4 0 1 0 -2.8 0zM344.71 373.66a1.4 1.4 0 1 0 2.8 0a1.4 1.4 0 1 0 -2.8 0zM347.93 372.27a1.4 1.4 0 1 0 2.8 0a1.4 1.4 0 1 0 -2.8 0zM352.75 372.58a1.4 1.4 0 1 0 2.8 0a1.4 1.4 0 1 0 -2.8 0zM355.96 372.86a1.4 1.4 0 1 0 2.8 0a1.4 1.4 0 1 0 -2.8 0zM359.18 372.91a1.4 1.4 0 1 0 2.8 0a1.4 1.4 0 1 0 -2.8 0zM364.00 372.19a1.4 1.4 0 1 0 2.8 0a1.4 1.4 0 1 0 -2.8 0zM367.21 371.00a1.4 1.4 0 1 0 2.8 0a1.4 1.4 0 1 0 -2.8 0zM370.42 369.00a1.4 1.4 0 1 0 2.8 0a1.4 1.4 0 1 0 -2.8 0zM375.25 366.00a1.4 1.4 0 1 0 2.8 0a1.4 1.4 0 1 0 -2.8 0zM378.46 362.00a1.4 1.4 0 1 0 2.8 0a1.4 1.4 0 1 0 -2.8 0zM381.67 355.00a1.4 1.4 0 1 0 2.8 0a1.4 1.4 0 1 0 -2.8 0zM389.71 314.40a1.4 1.4 0 1 0 2.8 0a1.4 1.4 0 1 0 -2.8 0zM392.92 286.25a1.4 1.4 0 1 0 2.8 0a1.4 1.4 0 1 0 -2.8 0zM307.75 374.99a1.4 1.4 0 1 0 2.8 0a1.4 1.4 0 1 0 -2.8 0zM310.96 375.43a1.4 1.4 0 1 0 2.8 0a1.4 1.4 0 1 0 -2.8 0zM314.18 373.84a1.4 1.4 0 1 0 2.8 0a1.4 1.4 0 1 0 -2.8 0zM319.00 373.90a1.4 1.4 0 1 0 2.8 0a1.4 1.4 0 1 0 -2.8 0zM323.82 372.70a1.4 1.4 0 1 0 2.8 0a1.4 1.4 0 1 0 -2.8 0zM330.25 372.75a1.4 1.4 0 1 0 2.8 0a1.4 1.4 0 1 0 -2.8 0zM333.46 373.47a1.4 1.4 0 1 0 2.8 0a1.4 1.4 0 1 0 -2.8 0zM336.68 373.24a1.4 1.4 0 1 0 2.8 0a1.4 1.4 0 1 0 -2.8 0zM341.50 374.93a1.4 1.4 0 1 0 2.8 0a1.4 1.4 0 1 0 -2.8 0zM344.71 372.93a1.4 1.4 0 1 0 2.8 0a1.4 1.4 0 1 0 -2.8 0zM347.93 372.52a1.4 1.4 0 1 0 2.8 0a1.4 1.4 0 1 0 -2.8 0zM352.75 375.30a1.4 1.4 0 1 0 2.8 0a1.4 1.4 0 1 0 -2.8 0zM355.96 374.03a1.4 1.4 0 1 0 2.8 0a1.4 1.4 0 1 0 -2.8 0zM359.18 372.89a1.4 1.4 0 1 0 2.8 0a1.4 1.4 0 1 0 -2.8 0zM364.00 374.08a1.4 1.4 0 1 0 2.8 0a1.4 1.4 0 1 0 -2.8 0zM367.21 372.53a1.4 1.4 0 1 0 2.8 0a1.4 1.4 0 1 0 -2.8 0zM370.42 374.03a1.4 1.4 0 1 0 2.8 0a1.4 1.4 0 1 0 -2.8 0zM375.25 375.38a1.4 1.4 0 1 0 2.8 0a1.4 1.4 0 1 0 -2.8 0zM378.46 373.00a1.4 1.4 0 1 0 2.8 0a1.4 1.4 0 1 0 -2.8 0zM381.67 373.00a1.4 1.4 0 1 0 2.8 0a1.4 1.4 0 1 0 -2.8 0zM389.71 363.00a1.4 1.4 0 1 0 2.8 0a1.4 1.4 0 1 0 -2.8 0zM392.92 344.90a1.4 1.4 0 1 0 2.8 0a1.4 1.4 0 1 0 -2.8 0zM397.74 330.50a1.4 1.4 0 1 0 2.8 0a1.4 1.4 0 1 0 -2.8 0zM400.96 329.25a1.4 1.4 0 1 0 2.8 0a1.4 1.4 0 1 0 -2.8 0zM404.17 299.40a1.4 1.4 0 1 0 2.8 0a1.4 1.4 0 1 0 -2.8 0zM307.75 375.66a1.4 1.4 0 1 0 2.8 0a1.4 1.4 0 1 0 -2.8 0zM310.96 375.16a1.4 1.4 0 1 0 2.8 0a1.4 1.4 0 1 0 -2.8 0zM314.18 373.86a1.4 1.4 0 1 0 2.8 0a1.4 1.4 0 1 0 -2.8 0zM319.00 374.17a1.4 1.4 0 1 0 2.8 0a1.4 1.4 0 1 0 -2.8 0zM323.82 373.57a1.4 1.4 0 1 0 2.8 0a1.4 1.4 0 1 0 -2.8 0zM330.25 375.39a1.4 1.4 0 1 0 2.8 0a1.4 1.4 0 1 0 -2.8 0zM333.46 374.67a1.4 1.4 0 1 0 2.8 0a1.4 1.4 0 1 0 -2.8 0zM336.68 375.41a1.4 1.4 0 1 0 2.8 0a1.4 1.4 0 1 0 -2.8 0zM341.50 374.06a1.4 1.4 0 1 0 2.8 0a1.4 1.4 0 1 0 -2.8 0zM344.71 373.74a1.4 1.4 0 1 0 2.8 0a1.4 1.4 0 1 0 -2.8 0zM347.93 375.51a1.4 1.4 0 1 0 2.8 0a1.4 1.4 0 1 0 -2.8 0zM352.75 376.03a1.4 1.4 0 1 0 2.8 0a1.4 1.4 0 1 0 -2.8 0zM355.96 375.63a1.4 1.4 0 1 0 2.8 0a1.4 1.4 0 1 0 -2.8 0zM359.18 375.49a1.4 1.4 0 1 0 2.8 0a1.4 1.4 0 1 0 -2.8 0zM364.00 375.53a1.4 1.4 0 1 0 2.8 0a1.4 1.4 0 1 0 -2.8 0zM367.21 375.29a1.4 1.4 0 1 0 2.8 0a1.4 1.4 0 1 0 -2.8 0zM370.42 373.75a1.4 1.4 0 1 0 2.8 0a1.4 1.4 0 1 0 -2.8 0zM375.25 374.63a1.4 1.4 0 1 0 2.8 0a1.4 1.4 0 1 0 -2.8 0zM378.46 374.14a1.4 1.4 0 1 0 2.8 0a1.4 1.4 0 1 0 -2.8 0zM381.67 373.16a1.4 1.4 0 1 0 2.8 0a1.4 1.4 0 1 0 -2.8 0zM389.71 373.16a1.4 1.4 0 1 0 2.8 0a1.4 1.4 0 1 0 -2.8 0zM392.92 373.91a1.4 1.4 0 1 0 2.8 0a1.4 1.4 0 1 0 -2.8 0zM397.74 372.50a1.4 1.4 0 1 0 2.8 0a1.4 1.4 0 1 0 -2.8 0zM400.96 371.80a1.4 1.4 0 1 0 2.8 0a1.4 1.4 0 1 0 -2.8 0zM404.17 370.20a1.4 1.4 0 1 0 2.8 0a1.4 1.4 0 1 0 -2.8 0zM408.99 369.10a1.4 1.4 0 1 0 2.8 0a1.4 1.4 0 1 0 -2.8 0zM412.21 368.10a1.4 1.4 0 1 0 2.8 0a1.4 1.4 0 1 0 -2.8 0zM415.42 369.80a1.4 1.4 0 1 0 2.8 0a1.4 1.4 0 1 0 -2.8 0zM420.24 368.90a1.4 1.4 0 1 0 2.8 0a1.4 1.4 0 1 0 -2.8 0zM423.45 367.60a1.4 1.4 0 1 0 2.8 0a1.4 1.4 0 1 0 -2.8 0zM426.67 366.50a1.4 1.4 0 1 0 2.8 0a1.4 1.4 0 1 0 -2.8 0zM431.49 364.90a1.4 1.4 0 1 0 2.8 0a1.4 1.4 0 1 0 -2.8 0zM434.70 358.20a1.4 1.4 0 1 0 2.8 0a1.4 1.4 0 1 0 -2.8 0zM437.92 361.80a1.4 1.4 0 1 0 2.8 0a1.4 1.4 0 1 0 -2.8 0zM442.74 358.10a1.4 1.4 0 1 0 2.8 0a1.4 1.4 0 1 0 -2.8 0zM445.95 360.50a1.4 1.4 0 1 0 2.8 0a1.4 1.4 0 1 0 -2.8 0zM449.17 361.60a1.4 1.4 0 1 0 2.8 0a1.4 1.4 0 1 0 -2.8 0zM453.99 359.20a1.4 1.4 0 1 0 2.8 0a1.4 1.4 0 1 0 -2.8 0zM457.20 359.80a1.4 1.4 0 1 0 2.8 0a1.4 1.4 0 1 0 -2.8 0zM460.42 355.20a1.4 1.4 0 1 0 2.8 0a1.4 1.4 0 1 0 -2.8 0zM465.24 350.90a1.4 1.4 0 1 0 2.8 0a1.4 1.4 0 1 0 -2.8 0zM471.66 351.90a1.4 1.4 0 1 0 2.8 0a1.4 1.4 0 1 0 -2.8 0zM476.49 347.20a1.4 1.4 0 1 0 2.8 0a1.4 1.4 0 1 0 -2.8 0zM479.70 346.80a1.4 1.4 0 1 0 2.8 0a1.4 1.4 0 1 0 -2.8 0zM487.74 334.80a1.4 1.4 0 1 0 2.8 0a1.4 1.4 0 1 0 -2.8 0zM490.95 327.50a1.4 1.4 0 1 0 2.8 0a1.4 1.4 0 1 0 -2.8 0zM494.16 321.70a1.4 1.4 0 1 0 2.8 0a1.4 1.4 0 1 0 -2.8 0zM307.75 374.48a1.4 1.4 0 1 0 2.8 0a1.4 1.4 0 1 0 -2.8 0zM310.96 375.78a1.4 1.4 0 1 0 2.8 0a1.4 1.4 0 1 0 -2.8 0zM314.18 376.30a1.4 1.4 0 1 0 2.8 0a1.4 1.4 0 1 0 -2.8 0zM319.00 375.04a1.4 1.4 0 1 0 2.8 0a1.4 1.4 0 1 0 -2.8 0zM323.82 376.30a1.4 1.4 0 1 0 2.8 0a1.4 1.4 0 1 0 -2.8 0zM330.25 376.30a1.4 1.4 0 1 0 2.8 0a1.4 1.4 0 1 0 -2.8 0zM333.46 376.30a1.4 1.4 0 1 0 2.8 0a1.4 1.4 0 1 0 -2.8 0zM336.68 374.79a1.4 1.4 0 1 0 2.8 0a1.4 1.4 0 1 0 -2.8 0zM341.50 374.36a1.4 1.4 0 1 0 2.8 0a1.4 1.4 0 1 0 -2.8 0zM344.71 374.38a1.4 1.4 0 1 0 2.8 0a1.4 1.4 0 1 0 -2.8 0zM347.93 374.29a1.4 1.4 0 1 0 2.8 0a1.4 1.4 0 1 0 -2.8 0zM352.75 374.31a1.4 1.4 0 1 0 2.8 0a1.4 1.4 0 1 0 -2.8 0zM355.96 375.57a1.4 1.4 0 1 0 2.8 0a1.4 1.4 0 1 0 -2.8 0zM359.18 376.30a1.4 1.4 0 1 0 2.8 0a1.4 1.4 0 1 0 -2.8 0zM364.00 376.22a1.4 1.4 0 1 0 2.8 0a1.4 1.4 0 1 0 -2.8 0zM367.21 375.14a1.4 1.4 0 1 0 2.8 0a1.4 1.4 0 1 0 -2.8 0zM370.42 375.66a1.4 1.4 0 1 0 2.8 0a1.4 1.4 0 1 0 -2.8 0zM375.25 376.10a1.4 1.4 0 1 0 2.8 0a1.4 1.4 0 1 0 -2.8 0zM378.46 373.95a1.4 1.4 0 1 0 2.8 0a1.4 1.4 0 1 0 -2.8 0zM381.67 375.68a1.4 1.4 0 1 0 2.8 0a1.4 1.4 0 1 0 -2.8 0zM389.71 376.30a1.4 1.4 0 1 0 2.8 0a1.4 1.4 0 1 0 -2.8 0zM392.92 376.05a1.4 1.4 0 1 0 2.8 0a1.4 1.4 0 1 0 -2.8 0zM397.74 374.50a1.4 1.4 0 1 0 2.8 0a1.4 1.4 0 1 0 -2.8 0zM400.96 375.00a1.4 1.4 0 1 0 2.8 0a1.4 1.4 0 1 0 -2.8 0zM404.17 375.40a1.4 1.4 0 1 0 2.8 0a1.4 1.4 0 1 0 -2.8 0zM408.99 375.40a1.4 1.4 0 1 0 2.8 0a1.4 1.4 0 1 0 -2.8 0zM412.21 375.50a1.4 1.4 0 1 0 2.8 0a1.4 1.4 0 1 0 -2.8 0zM415.42 376.00a1.4 1.4 0 1 0 2.8 0a1.4 1.4 0 1 0 -2.8 0zM420.24 375.10a1.4 1.4 0 1 0 2.8 0a1.4 1.4 0 1 0 -2.8 0zM423.45 373.80a1.4 1.4 0 1 0 2.8 0a1.4 1.4 0 1 0 -2.8 0zM426.67 372.70a1.4 1.4 0 1 0 2.8 0a1.4 1.4 0 1 0 -2.8 0zM431.49 374.50a1.4 1.4 0 1 0 2.8 0a1.4 1.4 0 1 0 -2.8 0zM434.70 373.50a1.4 1.4 0 1 0 2.8 0a1.4 1.4 0 1 0 -2.8 0zM437.92 375.10a1.4 1.4 0 1 0 2.8 0a1.4 1.4 0 1 0 -2.8 0zM442.74 373.40a1.4 1.4 0 1 0 2.8 0a1.4 1.4 0 1 0 -2.8 0zM445.95 372.20a1.4 1.4 0 1 0 2.8 0a1.4 1.4 0 1 0 -2.8 0zM449.17 373.80a1.4 1.4 0 1 0 2.8 0a1.4 1.4 0 1 0 -2.8 0zM453.99 372.50a1.4 1.4 0 1 0 2.8 0a1.4 1.4 0 1 0 -2.8 0zM457.20 371.40a1.4 1.4 0 1 0 2.8 0a1.4 1.4 0 1 0 -2.8 0zM460.42 369.10a1.4 1.4 0 1 0 2.8 0a1.4 1.4 0 1 0 -2.8 0zM465.24 365.40a1.4 1.4 0 1 0 2.8 0a1.4 1.4 0 1 0 -2.8 0zM471.66 363.60a1.4 1.4 0 1 0 2.8 0a1.4 1.4 0 1 0 -2.8 0zM476.49 356.10a1.4 1.4 0 1 0 2.8 0a1.4 1.4 0 1 0 -2.8 0zM479.70 346.80a1.4 1.4 0 1 0 2.8 0a1.4 1.4 0 1 0 -2.8 0zM487.74 339.90a1.4 1.4 0 1 0 2.8 0a1.4 1.4 0 1 0 -2.8 0zM490.95 335.90a1.4 1.4 0 1 0 2.8 0a1.4 1.4 0 1 0 -2.8 0zM494.16 339.60a1.4 1.4 0 1 0 2.8 0a1.4 1.4 0 1 0 -2.8 0zM498.98 327.50a1.4 1.4 0 1 0 2.8 0a1.4 1.4 0 1 0 -2.8 0zM502.20 316.60a1.4 1.4 0 1 0 2.8 0a1.4 1.4 0 1 0 -2.8 0zM505.41 313.30a1.4 1.4 0 1 0 2.8 0a1.4 1.4 0 1 0 -2.8 0zM510.23 306.00a1.4 1.4 0 1 0 2.8 0a1.4 1.4 0 1 0 -2.8 0z" fill="#111"/>
<path d="M304.33 237.90V377.7H513.64" fill="none" stroke="#111" stroke-width="1.2"/>
<line x1="302.53" x2="304.33" y1="377.70" y2="377.70" class="t"/>
<text x="302.13" y="379.50" text-anchor="end" class="tk">0</text>
<line x1="302.53" x2="304.33" y1="342.85" y2="342.85" class="t"/>
<text x="302.13" y="344.65" text-anchor="end" class="tk">1,000</text>
<line x1="302.53" x2="304.33" y1="308.00" y2="308.00" class="t"/>
<text x="302.13" y="309.80" text-anchor="end" class="tc">Term. Crit.</text>
<line x1="302.53" x2="304.33" y1="273.15" y2="273.15" class="t"/>
<text x="302.13" y="274.95" text-anchor="end" class="tk">3,000</text>
<line x1="302.53" x2="304.33" y1="238.30" y2="238.30" class="t"/>
<text x="302.13" y="240.10" text-anchor="end" class="tk">4,000</text>
<line x1="352.54" x2="352.54" y1="377.7" y2="379.5" class="t"/>
<text x="352.94" y="385.90" text-anchor="middle" class="tk">20</text>
<line x1="384.68" x2="384.68" y1="377.7" y2="379.5" class="t"/>
<text x="385.08" y="385.90" text-anchor="middle" class="tk">40</text>
<line x1="416.82" x2="416.82" y1="377.7" y2="379.5" class="t"/>
<text x="417.22" y="385.90" text-anchor="middle" class="tk">60</text>
<line x1="448.96" x2="448.96" y1="377.7" y2="379.5" class="t"/>
<text x="449.36" y="385.90" text-anchor="middle" class="tk">80</text>
<line x1="481.10" x2="481.10" y1="377.7" y2="379.5" class="t"/>
<text x="481.50" y="385.90" text-anchor="middle" class="tk">100</text>
<line x1="513.24" x2="513.24" y1="377.7" y2="379.5" class="t"/>
<text x="513.64" y="385.90" text-anchor="middle" class="tk">120</text>
<line x1="320.40" x2="320.40" y1="377.7" y2="379.5" class="t"/>
<text transform="translate(321.40,384.90) rotate(-45)" text-anchor="end" class="cy">Cycle 1</text>
<line x1="354.15" x2="354.15" y1="377.7" y2="379.5" class="t"/>
<text transform="translate(350.95,389.20) rotate(-45)" text-anchor="end" class="cy">Cycle 2</text>
<text x="408.70" y="410.40" text-anchor="middle" class="xl">Days since treatment</text>
<text transform="translate(268.83,306.50) rotate(-90)" text-anchor="middle" class="yl">Tumor volume (mm<tspan dy="-2" font-size="3.8">3</tspan><tspan dy="2">)</tspan></text>
<text x="410.00" y="226.50" text-anchor="middle" class="tt"><tspan dy="-5.1" font-size="8">212</tspan><tspan dy="5.1">Pb-DOTAMTATE_2 x 5 µCi</tspan></text>
</g>
<g id="c10">
<line x1="321.5" y1="452.40" x2="321.5" y2="591.8" class="g"/>
<line x1="304.93" y1="522.5" x2="513.84" y2="522.5" class="g"/>
<polyline points="310.25,583.10 313.46,581.25 316.68,570.00 321.50,572.50 326.32,566.25 332.75,576.90 335.96,573.75 339.18,578.75 344.00,576.90 347.21,576.25 350.43,574.40 355.25,571.00 358.46,562.25 361.68,543.75 366.50,516.25" class="ln"/>
<polyline points="310.25,586.90 313.46,586.90 316.68,586.90 321.50,574.40 326.32,573.75 332.75,579.40 335.96,577.50 339.18,582.50 344.00,580.00 347.21,576.90 350.43,580.60 355.25,580.60 358.46,576.25 361.68,576.25 366.50,559.75 369.71,546.00 372.92,525.00 377.75,514.10" class="ln"/>
<polyline points="310.25,586.90 313.46,589.20 316.68,586.90 321.50,583.10 326.32,576.25 332.75,583.75 335.96,582.50 339.18,585.00 344.00,584.00 347.21,583.00 350.43,583.00 355.25,582.00 358.46,579.40 361.68,578.00 366.50,562.75 369.71,553.10 372.92,528.50 377.75,518.10" class="ln"/>
<polyline points="310.25,589.20 313.46,586.90 316.68,589.20 321.50,583.75 326.32,583.75 332.75,586.50 335.96,585.00 339.18,587.50 344.00,587.00 347.21,586.50 350.43,586.00 355.25,585.00 358.46,583.00 361.68,580.00 366.50,573.75 369.71,574.40 372.92,571.25 377.75,571.25 380.96,563.75 384.17,553.75 392.21,530.60 395.42,505.60" class="ln"/>
<polyline points="310.25,586.90 313.46,586.90 316.68,586.90 321.50,587.30 326.32,586.90 332.75,586.90 335.96,587.30 339.18,586.90 344.00,586.90 347.21,587.30 350.43,586.90 355.25,586.90 358.46,587.30 361.68,586.00 366.50,585.00 369.71,583.00 372.92,580.60 377.75,580.00 380.96,571.25 384.17,569.40 392.21,559.40 395.42,544.20 400.24,507.70" class="ln"/>
<polyline points="310.25,589.20 313.46,589.20 316.68,589.20 321.50,589.50 326.32,589.20 332.75,589.50 335.96,589.20 339.18,589.50 344.00,589.20 347.21,589.50 350.43,589.20 355.25,589.50 358.46,589.20 361.68,588.00 366.50,587.00 369.71,586.00 372.92,585.00 377.75,584.40 380.96,581.25 384.17,576.90 392.21,560.60 395.42,551.40 400.24,514.90" class="ln"/>
<polyline points="310.25,586.90 313.46,586.90 316.68,586.90 321.50,586.90 326.32,587.10 332.75,586.90 335.96,587.10 339.18,586.90 344.00,587.10 347.21,586.90 350.43,587.10 355.25,586.90 358.46,587.10 361.68,587.00 366.50,586.00 369.71,585.00 372.92,583.00 377.75,578.00 380.96,570.00 384.17,581.25 392.21,562.00 395.42,551.40 400.24,525.70 403.46,498.40" class="ln"/>
<polyline points="310.25,589.20 313.46,589.20 316.68,589.20 321.50,589.70 326.32,589.40 332.75,589.40 335.96,589.70 339.18,589.40 344.00,589.40 347.21,589.70 350.43,589.40 355.25,589.40 358.46,589.70 361.68,590.00 366.50,590.00 369.71,589.50 372.92,589.00 377.75,588.10 380.96,590.60 384.17,591.25 392.21,587.30 395.42,586.00 400.24,579.20 403.46,575.00 406.67,571.60 411.49,559.40 414.71,562.70 417.92,543.90 422.74,525.70 425.95,509.90" class="ln"/>
<path d="M308.85 583.10a1.4 1.4 0 1 0 2.8 0a1.4 1.4 0 1 0 -2.8 0zM312.06 581.25a1.4 1.4 0 1 0 2.8 0a1.4 1.4 0 1 0 -2.8 0zM315.28 570.00a1.4 1.4 0 1 0 2.8 0a1.4 1.4 0 1 0 -2.8 0zM320.10 572.50a1.4 1.4 0 1 0 2.8 0a1.4 1.4 0 1 0 -2.8 0zM324.92 566.25a1.4 1.4 0 1 0 2.8 0a1.4 1.4 0 1 0 -2.8 0zM331.35 576.90a1.4 1.4 0 1 0 2.8 0a1.4 1.4 0 1 0 -2.8 0zM334.56 573.75a1.4 1.4 0 1 0 2.8 0a1.4 1.4 0 1 0 -2.8 0zM337.78 578.75a1.4 1.4 0 1 0 2.8 0a1.4 1.4 0 1 0 -2.8 0zM342.60 576.90a1.4 1.4 0 1 0 2.8 0a1.4 1.4 0 1 0 -2.8 0zM345.81 576.25a1.4 1.4 0 1 0 2.8 0a1.4 1.4 0 1 0 -2.8 0zM349.03 574.40a1.4 1.4 0 1 0 2.8 0a1.4 1.4 0 1 0 -2.8 0zM353.85 571.00a1.4 1.4 0 1 0 2.8 0a1.4 1.4 0 1 0 -2.8 0zM357.06 562.25a1.4 1.4 0 1 0 2.8 0a1.4 1.4 0 1 0 -2.8 0zM360.28 543.75a1.4 1.4 0 1 0 2.8 0a1.4 1.4 0 1 0 -2.8 0zM365.10 516.25a1.4 1.4 0 1 0 2.8 0a1.4 1.4 0 1 0 -2.8 0zM308.85 586.90a1.4 1.4 0 1 0 2.8 0a1.4 1.4 0 1 0 -2.8 0zM312.06 586.90a1.4 1.4 0 1 0 2.8 0a1.4 1.4 0 1 0 -2.8 0zM315.28 586.90a1.4 1.4 0 1 0 2.8 0a1.4 1.4 0 1 0 -2.8 0zM320.10 574.40a1.4 1.4 0 1 0 2.8 0a1.4 1.4 0 1 0 -2.8 0zM324.92 573.75a1.4 1.4 0 1 0 2.8 0a1.4 1.4 0 1 0 -2.8 0zM331.35 579.40a1.4 1.4 0 1 0 2.8 0a1.4 1.4 0 1 0 -2.8 0zM334.56 577.50a1.4 1.4 0 1 0 2.8 0a1.4 1.4 0 1 0 -2.8 0zM337.78 582.50a1.4 1.4 0 1 0 2.8 0a1.4 1.4 0 1 0 -2.8 0zM342.60 580.00a1.4 1.4 0 1 0 2.8 0a1.4 1.4 0 1 0 -2.8 0zM345.81 576.90a1.4 1.4 0 1 0 2.8 0a1.4 1.4 0 1 0 -2.8 0zM349.03 580.60a1.4 1.4 0 1 0 2.8 0a1.4 1.4 0 1 0 -2.8 0zM353.85 580.60a1.4 1.4 0 1 0 2.8 0a1.4 1.4 0 1 0 -2.8 0zM357.06 576.25a1.4 1.4 0 1 0 2.8 0a1.4 1.4 0 1 0 -2.8 0zM360.28 576.25a1.4 1.4 0 1 0 2.8 0a1.4 1.4 0 1 0 -2.8 0zM365.10 559.75a1.4 1.4 0 1 0 2.8 0a1.4 1.4 0 1 0 -2.8 0zM368.31 546.00a1.4 1.4 0 1 0 2.8 0a1.4 1.4 0 1 0 -2.8 0zM371.52 525.00a1.4 1.4 0 1 0 2.8 0a1.4 1.4 0 1 0 -2.8 0zM376.35 514.10a1.4 1.4 0 1 0 2.8 0a1.4 1.4 0 1 0 -2.8 0zM308.85 586.90a1.4 1.4 0 1 0 2.8 0a1.4 1.4 0 1 0 -2.8 0zM312.06 589.20a1.4 1.4 0 1 0 2.8 0a1.4 1.4 0 1 0 -2.8 0zM315.28 586.90a1.4 1.4 0 1 0 2.8 0a1.4 1.4 0 1 0 -2.8 0zM320.10 583.10a1.4 1.4 0 1 0 2.8 0a1.4 1.4 0 1 0 -2.8 0zM324.92 576.25a1.4 1.4 0 1 0 2.8 0a1.4 1.4 0 1 0 -2.8 0zM331.35 583.75a1.4 1.4 0 1 0 2.8 0a1.4 1.4 0 1 0 -2.8 0zM334.56 582.50a1.4 1.4 0 1 0 2.8 0a1.4 1.4 0 1 0 -2.8 0zM337.78 585.00a1.4 1.4 0 1 0 2.8 0a1.4 1.4 0 1 0 -2.8 0zM342.60 584.00a1.4 1.4 0 1 0 2.8 0a1.4 1.4 0 1 0 -2.8 0zM345.81 583.00a1.4 1.4 0 1 0 2.8 0a1.4 1.4 0 1 0 -2.8 0zM349.03 583.00a1.4 1.4 0 1 0 2.8 0a1.4 1.4 0 1 0 -2.8 0zM353.85 582.00a1.4 1.4 0 1 0 2.8 0a1.4 1.4 0 1 0 -2.8 0zM357.06 579.40a1.4 1.4 0 1 0 2.8 0a1.4 1.4 0 1 0 -2.8 0zM360.28 578.00a1.4 1.4 0 1 0 2.8 0a1.4 1.4 0 1 0 -2.8 0zM365.10 562.75a1.4 1.4 0 1 0 2.8 0a1.4 1.4 0 1 0 -2.8 0zM368.31 553.10a1.4 1.4 0 1 0 2.8 0a1.4 1.4 0 1 0 -2.8 0zM371.52 528.50a1.4 1.4 0 1 0 2.8 0a1.4 1.4 0 1 0 -2.8 0zM376.35 518.10a1.4 1.4 0 1 0 2.8 0a1.4 1.4 0 1 0 -2.8 0zM308.85 589.20a1.4 1.4 0 1 0 2.8 0a1.4 1.4 0 1 0 -2.8 0zM312.06 586.90a1.4 1.4 0 1 0 2.8 0a1.4 1.4 0 1 0 -2.8 0zM315.28 589.20a1.4 1.4 0 1 0 2.8 0a1.4 1.4 0 1 0 -2.8 0zM320.10 583.75a1.4 1.4 0 1 0 2.8 0a1.4 1.4 0 1 0 -2.8 0zM324.92 583.75a1.4 1.4 0 1 0 2.8 0a1.4 1.4 0 1 0 -2.8 0zM331.35 586.50a1.4 1.4 0 1 0 2.8 0a1.4 1.4 0 1 0 -2.8 0zM334.56 585.00a1.4 1.4 0 1 0 2.8 0a1.4 1.4 0 1 0 -2.8 0zM337.78 587.50a1.4 1.4 0 1 0 2.8 0a1.4 1.4 0 1 0 -2.8 0zM342.60 587.00a1.4 1.4 0 1 0 2.8 0a1.4 1.4 0 1 0 -2.8 0zM345.81 586.50a1.4 1.4 0 1 0 2.8 0a1.4 1.4 0 1 0 -2.8 0zM349.03 586.00a1.4 1.4 0 1 0 2.8 0a1.4 1.4 0 1 0 -2.8 0zM353.85 585.00a1.4 1.4 0 1 0 2.8 0a1.4 1.4 0 1 0 -2.8 0zM357.06 583.00a1.4 1.4 0 1 0 2.8 0a1.4 1.4 0 1 0 -2.8 0zM360.28 580.00a1.4 1.4 0 1 0 2.8 0a1.4 1.4 0 1 0 -2.8 0zM365.10 573.75a1.4 1.4 0 1 0 2.8 0a1.4 1.4 0 1 0 -2.8 0zM368.31 574.40a1.4 1.4 0 1 0 2.8 0a1.4 1.4 0 1 0 -2.8 0zM371.52 571.25a1.4 1.4 0 1 0 2.8 0a1.4 1.4 0 1 0 -2.8 0zM376.35 571.25a1.4 1.4 0 1 0 2.8 0a1.4 1.4 0 1 0 -2.8 0zM379.56 563.75a1.4 1.4 0 1 0 2.8 0a1.4 1.4 0 1 0 -2.8 0zM382.77 553.75a1.4 1.4 0 1 0 2.8 0a1.4 1.4 0 1 0 -2.8 0zM390.81 530.60a1.4 1.4 0 1 0 2.8 0a1.4 1.4 0 1 0 -2.8 0zM394.02 505.60a1.4 1.4 0 1 0 2.8 0a1.4 1.4 0 1 0 -2.8 0zM308.85 586.90a1.4 1.4 0 1 0 2.8 0a1.4 1.4 0 1 0 -2.8 0zM312.06 586.90a1.4 1.4 0 1 0 2.8 0a1.4 1.4 0 1 0 -2.8 0zM315.28 586.90a1.4 1.4 0 1 0 2.8 0a1.4 1.4 0 1 0 -2.8 0zM320.10 587.30a1.4 1.4 0 1 0 2.8 0a1.4 1.4 0 1 0 -2.8 0zM324.92 586.90a1.4 1.4 0 1 0 2.8 0a1.4 1.4 0 1 0 -2.8 0zM331.35 586.90a1.4 1.4 0 1 0 2.8 0a1.4 1.4 0 1 0 -2.8 0zM334.56 587.30a1.4 1.4 0 1 0 2.8 0a1.4 1.4 0 1 0 -2.8 0zM337.78 586.90a1.4 1.4 0 1 0 2.8 0a1.4 1.4 0 1 0 -2.8 0zM342.60 586.90a1.4 1.4 0 1 0 2.8 0a1.4 1.4 0 1 0 -2.8 0zM345.81 587.30a1.4 1.4 0 1 0 2.8 0a1.4 1.4 0 1 0 -2.8 0zM349.03 586.90a1.4 1.4 0 1 0 2.8 0a1.4 1.4 0 1 0 -2.8 0zM353.85 586.90a1.4 1.4 0 1 0 2.8 0a1.4 1.4 0 1 0 -2.8 0zM357.06 587.30a1.4 1.4 0 1 0 2.8 0a1.4 1.4 0 1 0 -2.8 0zM360.28 586.00a1.4 1.4 0 1 0 2.8 0a1.4 1.4 0 1 0 -2.8 0zM365.10 585.00a1.4 1.4 0 1 0 2.8 0a1.4 1.4 0 1 0 -2.8 0zM368.31 583.00a1.4 1.4 0 1 0 2.8 0a1.4 1.4 0 1 0 -2.8 0zM371.52 580.60a1.4 1.4 0 1 0 2.8 0a1.4 1.4 0 1 0 -2.8 0zM376.35 580.00a1.4 1.4 0 1 0 2.8 0a1.4 1.4 0 1 0 -2.8 0zM379.56 571.25a1.4 1.4 0 1 0 2.8 0a1.4 1.4 0 1 0 -2.8 0zM382.77 569.40a1.4 1.4 0 1 0 2.8 0a1.4 1.4 0 1 0 -2.8 0zM390.81 559.40a1.4 1.4 0 1 0 2.8 0a1.4 1.4 0 1 0 -2.8 0zM394.02 544.20a1.4 1.4 0 1 0 2.8 0a1.4 1.4 0 1 0 -2.8 0zM398.84 507.70a1.4 1.4 0 1 0 2.8 0a1.4 1.4 0 1 0 -2.8 0zM308.85 589.20a1.4 1.4 0 1 0 2.8 0a1.4 1.4 0 1 0 -2.8 0zM312.06 589.20a1.4 1.4 0 1 0 2.8 0a1.4 1.4 0 1 0 -2.8 0zM315.28 589.20a1.4 1.4 0 1 0 2.8 0a1.4 1.4 0 1 0 -2.8 0zM320.10 589.50a1.4 1.4 0 1 0 2.8 0a1.4 1.4 0 1 0 -2.8 0zM324.92 589.20a1.4 1.4 0 1 0 2.8 0a1.4 1.4 0 1 0 -2.8 0zM331.35 589.50a1.4 1.4 0 1 0 2.8 0a1.4 1.4 0 1 0 -2.8 0zM334.56 589.20a1.4 1.4 0 1 0 2.8 0a1.4 1.4 0 1 0 -2.8 0zM337.78 589.50a1.4 1.4 0 1 0 2.8 0a1.4 1.4 0 1 0 -2.8 0zM342.60 589.20a1.4 1.4 0 1 0 2.8 0a1.4 1.4 0 1 0 -2.8 0zM345.81 589.50a1.4 1.4 0 1 0 2.8 0a1.4 1.4 0 1 0 -2.8 0zM349.03 589.20a1.4 1.4 0 1 0 2.8 0a1.4 1.4 0 1 0 -2.8 0zM353.85 589.50a1.4 1.4 0 1 0 2.8 0a1.4 1.4 0 1 0 -2.8 0zM357.06 589.20a1.4 1.4 0 1 0 2.8 0a1.4 1.4 0 1 0 -2.8 0zM360.28 588.00a1.4 1.4 0 1 0 2.8 0a1.4 1.4 0 1 0 -2.8 0zM365.10 587.00a1.4 1.4 0 1 0 2.8 0a1.4 1.4 0 1 0 -2.8 0zM368.31 586.00a1.4 1.4 0 1 0 2.8 0a1.4 1.4 0 1 0 -2.8 0zM371.52 585.00a1.4 1.4 0 1 0 2.8 0a1.4 1.4 0 1 0 -2.8 0zM376.35 584.40a1.4 1.4 0 1 0 2.8 0a1.4 1.4 0 1 0 -2.8 0zM379.56 581.25a1.4 1.4 0 1 0 2.8 0a1.4 1.4 0 1 0 -2.8 0zM382.77 576.90a1.4 1.4 0 1 0 2.8 0a1.4 1.4 0 1 0 -2.8 0zM390.81 560.60a1.4 1.4 0 1 0 2.8 0a1.4 1.4 0 1 0 -2.8 0zM394.02 551.40a1.4 1.4 0 1 0 2.8 0a1.4 1.4 0 1 0 -2.8 0zM398.84 514.90a1.4 1.4 0 1 0 2.8 0a1.4 1.4 0 1 0 -2.8 0zM308.85 586.90a1.4 1.4 0 1 0 2.8 0a1.4 1.4 0 1 0 -2.8 0zM312.06 586.90a1.4 1.4 0 1 0 2.8 0a1.4 1.4 0 1 0 -2.8 0zM315.28 586.90a1.4 1.4 0 1 0 2.8 0a1.4 1.4 0 1 0 -2.8 0zM320.10 586.90a1.4 1.4 0 1 0 2.8 0a1.4 1.4 0 1 0 -2.8 0zM324.92 587.10a1.4 1.4 0 1 0 2.8 0a1.4 1.4 0 1 0 -2.8 0zM331.35 586.90a1.4 1.4 0 1 0 2.8 0a1.4 1.4 0 1 0 -2.8 0zM334.56 587.10a1.4 1.4 0 1 0 2.8 0a1.4 1.4 0 1 0 -2.8 0zM337.78 586.90a1.4 1.4 0 1 0 2.8 0a1.4 1.4 0 1 0 -2.8 0zM342.60 587.10a1.4 1.4 0 1 0 2.8 0a1.4 1.4 0 1 0 -2.8 0zM345.81 586.90a1.4 1.4 0 1 0 2.8 0a1.4 1.4 0 1 0 -2.8 0zM349.03 587.10a1.4 1.4 0 1 0 2.8 0a1.4 1.4 0 1 0 -2.8 0zM353.85 586.90a1.4 1.4 0 1 0 2.8 0a1.4 1.4 0 1 0 -2.8 0zM357.06 587.10a1.4 1.4 0 1 0 2.8 0a1.4 1.4 0 1 0 -2.8 0zM360.28 587.00a1.4 1.4 0 1 0 2.8 0a1.4 1.4 0 1 0 -2.8 0zM365.10 586.00a1.4 1.4 0 1 0 2.8 0a1.4 1.4 0 1 0 -2.8 0zM368.31 585.00a1.4 1.4 0 1 0 2.8 0a1.4 1.4 0 1 0 -2.8 0zM371.52 583.00a1.4 1.4 0 1 0 2.8 0a1.4 1.4 0 1 0 -2.8 0zM376.35 578.00a1.4 1.4 0 1 0 2.8 0a1.4 1.4 0 1 0 -2.8 0zM379.56 570.00a1.4 1.4 0 1 0 2.8 0a1.4 1.4 0 1 0 -2.8 0zM382.77 581.25a1.4 1.4 0 1 0 2.8 0a1.4 1.4 0 1 0 -2.8 0zM390.81 562.00a1.4 1.4 0 1 0 2.8 0a1.4 1.4 0 1 0 -2.8 0zM394.02 551.40a1.4 1.4 0 1 0 2.8 0a1.4 1.4 0 1 0 -2.8 0zM398.84 525.70a1.4 1.4 0 1 0 2.8 0a1.4 1.4 0 1 0 -2.8 0zM402.06 498.40a1.4 1.4 0 1 0 2.8 0a1.4 1.4 0 1 0 -2.8 0zM308.85 589.20a1.4 1.4 0 1 0 2.8 0a1.4 1.4 0 1 0 -2.8 0zM312.06 589.20a1.4 1.4 0 1 0 2.8 0a1.4 1.4 0 1 0 -2.8 0zM315.28 589.20a1.4 1.4 0 1 0 2.8 0a1.4 1.4 0 1 0 -2.8 0zM320.10 589.70a1.4 1.4 0 1 0 2.8 0a1.4 1.4 0 1 0 -2.8 0zM324.92 589.40a1.4 1.4 0 1 0 2.8 0a1.4 1.4 0 1 0 -2.8 0zM331.35 589.40a1.4 1.4 0 1 0 2.8 0a1.4 1.4 0 1 0 -2.8 0zM334.56 589.70a1.4 1.4 0 1 0 2.8 0a1.4 1.4 0 1 0 -2.8 0zM337.78 589.40a1.4 1.4 0 1 0 2.8 0a1.4 1.4 0 1 0 -2.8 0zM342.60 589.40a1.4 1.4 0 1 0 2.8 0a1.4 1.4 0 1 0 -2.8 0zM345.81 589.70a1.4 1.4 0 1 0 2.8 0a1.4 1.4 0 1 0 -2.8 0zM349.03 589.40a1.4 1.4 0 1 0 2.8 0a1.4 1.4 0 1 0 -2.8 0zM353.85 589.40a1.4 1.4 0 1 0 2.8 0a1.4 1.4 0 1 0 -2.8 0zM357.06 589.70a1.4 1.4 0 1 0 2.8 0a1.4 1.4 0 1 0 -2.8 0zM360.28 590.00a1.4 1.4 0 1 0 2.8 0a1.4 1.4 0 1 0 -2.8 0zM365.10 590.00a1.4 1.4 0 1 0 2.8 0a1.4 1.4 0 1 0 -2.8 0zM368.31 589.50a1.4 1.4 0 1 0 2.8 0a1.4 1.4 0 1 0 -2.8 0zM371.52 589.00a1.4 1.4 0 1 0 2.8 0a1.4 1.4 0 1 0 -2.8 0zM376.35 588.10a1.4 1.4 0 1 0 2.8 0a1.4 1.4 0 1 0 -2.8 0zM379.56 590.60a1.4 1.4 0 1 0 2.8 0a1.4 1.4 0 1 0 -2.8 0zM382.77 591.25a1.4 1.4 0 1 0 2.8 0a1.4 1.4 0 1 0 -2.8 0zM390.81 587.30a1.4 1.4 0 1 0 2.8 0a1.4 1.4 0 1 0 -2.8 0zM394.02 586.00a1.4 1.4 0 1 0 2.8 0a1.4 1.4 0 1 0 -2.8 0zM398.84 579.20a1.4 1.4 0 1 0 2.8 0a1.4 1.4 0 1 0 -2.8 0zM402.06 575.00a1.4 1.4 0 1 0 2.8 0a1.4 1.4 0 1 0 -2.8 0zM405.27 571.60a1.4 1.4 0 1 0 2.8 0a1.4 1.4 0 1 0 -2.8 0zM410.09 559.40a1.4 1.4 0 1 0 2.8 0a1.4 1.4 0 1 0 -2.8 0zM413.31 562.70a1.4 1.4 0 1 0 2.8 0a1.4 1.4 0 1 0 -2.8 0zM416.52 543.90a1.4 1.4 0 1 0 2.8 0a1.4 1.4 0 1 0 -2.8 0zM421.34 525.70a1.4 1.4 0 1 0 2.8 0a1.4 1.4 0 1 0 -2.8 0zM424.56 509.90a1.4 1.4 0 1 0 2.8 0a1.4 1.4 0 1 0 -2.8 0z" fill="#111"/>
<path d="M304.93 452.00V591.8H514.24" fill="none" stroke="#111" stroke-width="1.2"/>
<line x1="303.13" x2="304.93" y1="591.80" y2="591.80" class="t"/>
<text x="302.73" y="593.60" text-anchor="end" class="tk">0</text>
<line x1="303.13" x2="304.93" y1="556.95" y2="556.95" class="t"/>
<text x="302.73" y="558.75" text-anchor="end" class="tk">1,000</text>
<line x1="303.13" x2="304.93" y1="522.10" y2="522.10" class="t"/>
<text x="302.73" y="523.90" text-anchor="end" class="tc">Term. Crit.</text>
<line x1="303.13" x2="304.93" y1="487.25" y2="487.25" class="t"/>
<text x="302.73" y="489.05" text-anchor="end" class="tk">3,000</text>
<line x1="303.13" x2="304.93" y1="452.40" y2="452.40" class="t"/>
<text x="302.73" y="454.20" text-anchor="end" class="tk">4,000</text>
<line x1="353.14" x2="353.14" y1="591.8" y2="593.5999999999999" class="t"/>
<text x="353.54" y="600.00" text-anchor="middle" class="tk">20</text>
<line x1="385.28" x2="385.28" y1="591.8" y2="593.5999999999999" class="t"/>
<text x="385.68" y="600.00" text-anchor="middle" class="tk">40</text>
<line x1="417.42" x2="417.42" y1="591.8" y2="593.5999999999999" class="t"/>
<text x="417.82" y="600.00" text-anchor="middle" class="tk">60</text>
<line x1="449.56" x2="449.56" y1="591.8" y2="593.5999999999999" class="t"/>
<text x="449.96" y="600.00" text-anchor="middle" class="tk">80</text>
<line x1="481.70" x2="481.70" y1="591.8" y2="593.5999999999999" class="t"/>
<text x="482.10" y="600.00" text-anchor="middle" class="tk">100</text>
<line x1="513.84" x2="513.84" y1="591.8" y2="593.5999999999999" class="t"/>
<text x="514.24" y="600.00" text-anchor="middle" class="tk">120</text>
<line x1="321.00" x2="321.00" y1="591.8" y2="593.5999999999999" class="t"/>
<text transform="translate(322.40,598.60) rotate(-45)" text-anchor="end" class="cy" style="font-size:6.4px">Cycle 1</text>
<text x="408.60" y="621.60" text-anchor="middle" class="xl">Days since treatment</text>
<text transform="translate(270.33,520.60) rotate(-90)" text-anchor="middle" class="yl">Tumor volume (mm<tspan dy="-2" font-size="3.8">3</tspan><tspan dy="2">)</tspan></text>
<text x="409.20" y="439.80" text-anchor="middle" class="tt"><tspan dy="-5.1" font-size="8">212</tspan><tspan dy="5.1">Pb-DOTAMTATE_10 µCi</tspan></text>
</g>
</svg>
</body></html>
